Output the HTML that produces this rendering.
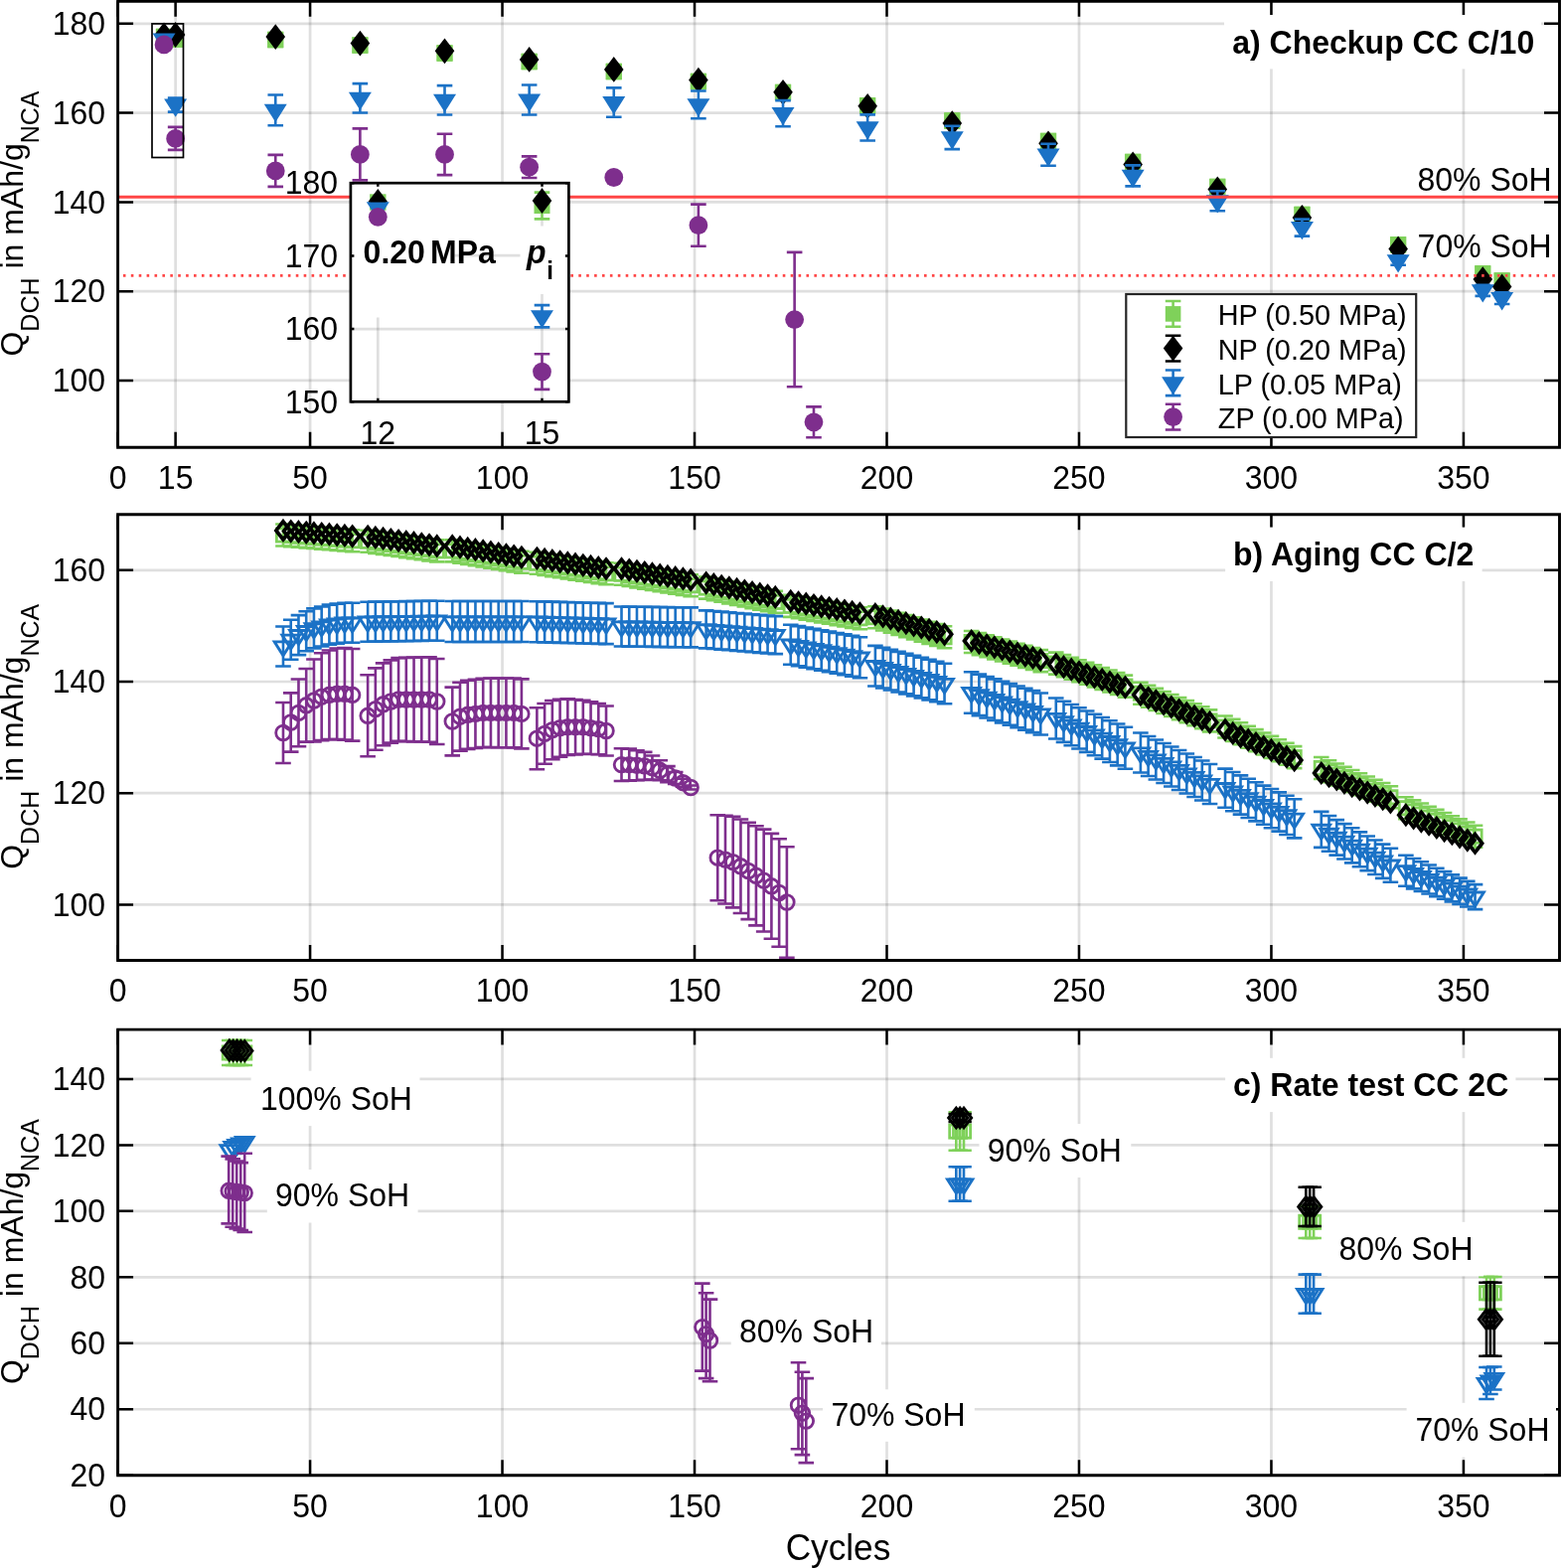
<!DOCTYPE html>
<html><head><meta charset="utf-8"><title>Discharge capacity vs cycles</title><style>html,body{margin:0;padding:0;background:#fff;overflow:hidden}svg{display:block}</style></head><body>
<svg width="1571" height="1578" viewBox="0 0 1571 1578" font-family="'Liberation Sans', Arial, Helvetica, sans-serif">
<rect width="1571" height="1578" fill="#fff"/>
<path d="M118.6,1.35V450.3M176.64,1.35V450.3M312.07,1.35V450.3M505.55,1.35V450.3M699.02,1.35V450.3M892.5,1.35V450.3M1085.97,1.35V450.3M1279.45,1.35V450.3M1472.92,1.35V450.3" stroke="#262626" stroke-opacity="0.15" stroke-width="2.7" fill="none"/><path d="M118.6,382.96H1569.5M118.6,293.17H1569.5M118.6,203.38H1569.5M118.6,113.59H1569.5M118.6,23.8H1569.5" stroke="#262626" stroke-opacity="0.15" stroke-width="2.7" fill="none"/>
<path d="M118.6,450.3V434.8M118.6,1.35V16.85M176.64,450.3V434.8M176.64,1.35V16.85M312.07,450.3V434.8M312.07,1.35V16.85M505.55,450.3V434.8M505.55,1.35V16.85M699.02,450.3V434.8M699.02,1.35V16.85M892.5,450.3V434.8M892.5,1.35V16.85M1085.97,450.3V434.8M1085.97,1.35V16.85M1279.45,450.3V434.8M1279.45,1.35V16.85M1472.92,450.3V434.8M1472.92,1.35V16.85M118.6,382.96H134.1M1569.5,382.96H1554M118.6,293.17H134.1M1569.5,293.17H1554M118.6,203.38H134.1M1569.5,203.38H1554M118.6,113.59H134.1M1569.5,113.59H1554M118.6,23.8H134.1M1569.5,23.8H1554" stroke="#000000" stroke-width="2.5" fill="none"/>
<path d="M165.03,30V44M157.23,30H172.83M157.23,44H172.83" stroke="#7fd15a" stroke-width="2.6" fill="none"/><rect x="156.83" y="28.8" width="16.4" height="16.4" fill="#7fd15a"/><path d="M176.64,32.5V46.5M168.84,32.5H184.44M168.84,46.5H184.44" stroke="#7fd15a" stroke-width="2.6" fill="none"/><rect x="168.44" y="31.3" width="16.4" height="16.4" fill="#7fd15a"/><path d="M277.25,33V47M269.45,33H285.05M269.45,47H285.05" stroke="#7fd15a" stroke-width="2.6" fill="none"/><rect x="269.05" y="31.8" width="16.4" height="16.4" fill="#7fd15a"/><path d="M362.38,38.5V52.5M354.58,38.5H370.18M354.58,52.5H370.18" stroke="#7fd15a" stroke-width="2.6" fill="none"/><rect x="354.18" y="37.3" width="16.4" height="16.4" fill="#7fd15a"/><path d="M447.51,46.5V60.5M439.71,46.5H455.31M439.71,60.5H455.31" stroke="#7fd15a" stroke-width="2.6" fill="none"/><rect x="439.31" y="45.3" width="16.4" height="16.4" fill="#7fd15a"/><path d="M532.64,55V69M524.84,55H540.44M524.84,69H540.44" stroke="#7fd15a" stroke-width="2.6" fill="none"/><rect x="524.44" y="53.8" width="16.4" height="16.4" fill="#7fd15a"/><path d="M617.77,65V79M609.97,65H625.57M609.97,79H625.57" stroke="#7fd15a" stroke-width="2.6" fill="none"/><rect x="609.57" y="63.8" width="16.4" height="16.4" fill="#7fd15a"/><path d="M702.89,75V89M695.09,75H710.69M695.09,89H710.69" stroke="#7fd15a" stroke-width="2.6" fill="none"/><rect x="694.69" y="73.8" width="16.4" height="16.4" fill="#7fd15a"/><path d="M788.02,86V100M780.22,86H795.82M780.22,100H795.82" stroke="#7fd15a" stroke-width="2.6" fill="none"/><rect x="779.82" y="84.8" width="16.4" height="16.4" fill="#7fd15a"/><path d="M873.15,99.3V113.3M865.35,99.3H880.95M865.35,113.3H880.95" stroke="#7fd15a" stroke-width="2.6" fill="none"/><rect x="864.95" y="98.1" width="16.4" height="16.4" fill="#7fd15a"/><path d="M958.28,114.5V128.5M950.48,114.5H966.08M950.48,128.5H966.08" stroke="#7fd15a" stroke-width="2.6" fill="none"/><rect x="950.08" y="113.3" width="16.4" height="16.4" fill="#7fd15a"/><path d="M1055.02,135V149M1047.22,135H1062.82M1047.22,149H1062.82" stroke="#7fd15a" stroke-width="2.6" fill="none"/><rect x="1046.82" y="133.8" width="16.4" height="16.4" fill="#7fd15a"/><path d="M1140.15,156V170M1132.35,156H1147.95M1132.35,170H1147.95" stroke="#7fd15a" stroke-width="2.6" fill="none"/><rect x="1131.95" y="154.8" width="16.4" height="16.4" fill="#7fd15a"/><path d="M1225.28,181V195M1217.48,181H1233.08M1217.48,195H1233.08" stroke="#7fd15a" stroke-width="2.6" fill="none"/><rect x="1217.08" y="179.8" width="16.4" height="16.4" fill="#7fd15a"/><path d="M1310.41,209V223M1302.61,209H1318.21M1302.61,223H1318.21" stroke="#7fd15a" stroke-width="2.6" fill="none"/><rect x="1302.21" y="207.8" width="16.4" height="16.4" fill="#7fd15a"/><path d="M1407.14,239.3V253.3M1399.34,239.3H1414.94M1399.34,253.3H1414.94" stroke="#7fd15a" stroke-width="2.6" fill="none"/><rect x="1398.94" y="238.1" width="16.4" height="16.4" fill="#7fd15a"/><path d="M1492.27,268.4V282.4M1484.47,268.4H1500.07M1484.47,282.4H1500.07" stroke="#7fd15a" stroke-width="2.6" fill="none"/><rect x="1484.07" y="267.2" width="16.4" height="16.4" fill="#7fd15a"/><path d="M1511.62,275.5V289.5M1503.82,275.5H1519.42M1503.82,289.5H1519.42" stroke="#7fd15a" stroke-width="2.6" fill="none"/><rect x="1503.42" y="274.3" width="16.4" height="16.4" fill="#7fd15a"/><path d="M165.03,22.4L174.83,35.3L165.03,48.2L155.23,35.3Z" fill="#000000"/><path d="M176.64,22.1L186.44,35L176.64,47.9L166.84,35Z" fill="#000000"/><path d="M277.25,24.2L287.05,37.1L277.25,50L267.45,37.1Z" fill="#000000"/><path d="M362.38,30.7L372.18,43.6L362.38,56.5L352.58,43.6Z" fill="#000000"/><path d="M447.51,38.4L457.31,51.3L447.51,64.2L437.71,51.3Z" fill="#000000"/><path d="M532.64,47L542.44,59.9L532.64,72.8L522.84,59.9Z" fill="#000000"/><path d="M617.77,57L627.57,69.9L617.77,82.8L607.97,69.9Z" fill="#000000"/><path d="M702.89,67.7L712.69,80.6L702.89,93.5L693.09,80.6Z" fill="#000000"/><path d="M788.02,79.9L797.82,92.8L788.02,105.7L778.22,92.8Z" fill="#000000"/><path d="M873.15,93.9L882.95,106.8L873.15,119.7L863.35,106.8Z" fill="#000000"/><path d="M958.28,111.2L968.08,124.1L958.28,137L948.48,124.1Z" fill="#000000"/><path d="M1055.02,131.4L1064.82,144.3L1055.02,157.2L1045.22,144.3Z" fill="#000000"/><path d="M1140.15,152.5L1149.95,165.4L1140.15,178.3L1130.35,165.4Z" fill="#000000"/><path d="M1225.28,177.5L1235.08,190.4L1225.28,203.3L1215.48,190.4Z" fill="#000000"/><path d="M1310.41,206L1320.21,218.9L1310.41,231.8L1300.61,218.9Z" fill="#000000"/><path d="M1407.14,237.6L1416.94,250.5L1407.14,263.4L1397.34,250.5Z" fill="#000000"/><path d="M1492.27,268.2L1502.07,281.1L1492.27,294L1482.47,281.1Z" fill="#000000"/><path d="M1511.62,275.5L1521.42,288.4L1511.62,301.3L1501.82,288.4Z" fill="#000000"/><path d="M165.03,36.5V42.5M157.23,36.5H172.83M157.23,42.5H172.83" stroke="#1b72c6" stroke-width="2.6" fill="none"/><path d="M153.53,33.4L176.53,33.4L165.03,51.7Z" fill="#1b72c6"/><path d="M176.64,98.6V112.6M168.84,98.6H184.44M168.84,112.6H184.44" stroke="#1b72c6" stroke-width="2.6" fill="none"/><path d="M165.14,99.5L188.14,99.5L176.64,117.8Z" fill="#1b72c6"/><path d="M277.25,95.5V126.3M269.45,95.5H285.05M269.45,126.3H285.05" stroke="#1b72c6" stroke-width="2.6" fill="none"/><path d="M265.75,104.8L288.75,104.8L277.25,123.1Z" fill="#1b72c6"/><path d="M362.38,84.1V113.5M354.58,84.1H370.18M354.58,113.5H370.18" stroke="#1b72c6" stroke-width="2.6" fill="none"/><path d="M350.88,92.7L373.88,92.7L362.38,111Z" fill="#1b72c6"/><path d="M447.51,86.1V115.5M439.71,86.1H455.31M439.71,115.5H455.31" stroke="#1b72c6" stroke-width="2.6" fill="none"/><path d="M436.01,94.7L459.01,94.7L447.51,113Z" fill="#1b72c6"/><path d="M532.64,85.5V115.5M524.84,85.5H540.44M524.84,115.5H540.44" stroke="#1b72c6" stroke-width="2.6" fill="none"/><path d="M521.14,94.4L544.14,94.4L532.64,112.7Z" fill="#1b72c6"/><path d="M617.77,88.4V117.7M609.97,88.4H625.57M609.97,117.7H625.57" stroke="#1b72c6" stroke-width="2.6" fill="none"/><path d="M606.27,96.95L629.27,96.95L617.77,115.25Z" fill="#1b72c6"/><path d="M702.89,91.5V119.2M695.09,91.5H710.69M695.09,119.2H710.69" stroke="#1b72c6" stroke-width="2.6" fill="none"/><path d="M691.39,99.25L714.39,99.25L702.89,117.55Z" fill="#1b72c6"/><path d="M788.02,101.1V127.2M780.22,101.1H795.82M780.22,127.2H795.82" stroke="#1b72c6" stroke-width="2.6" fill="none"/><path d="M776.52,108.05L799.52,108.05L788.02,126.35Z" fill="#1b72c6"/><path d="M873.15,115.4V141.5M865.35,115.4H880.95M865.35,141.5H880.95" stroke="#1b72c6" stroke-width="2.6" fill="none"/><path d="M861.65,122.35L884.65,122.35L873.15,140.65Z" fill="#1b72c6"/><path d="M958.28,126.8V150.1M950.48,126.8H966.08M950.48,150.1H966.08" stroke="#1b72c6" stroke-width="2.6" fill="none"/><path d="M946.78,132.35L969.78,132.35L958.28,150.65Z" fill="#1b72c6"/><path d="M1055.02,144.7V166.7M1047.22,144.7H1062.82M1047.22,166.7H1062.82" stroke="#1b72c6" stroke-width="2.6" fill="none"/><path d="M1043.52,149.6L1066.52,149.6L1055.02,167.9Z" fill="#1b72c6"/><path d="M1140.15,166.4V187.4M1132.35,166.4H1147.95M1132.35,187.4H1147.95" stroke="#1b72c6" stroke-width="2.6" fill="none"/><path d="M1128.65,170.8L1151.65,170.8L1140.15,189.1Z" fill="#1b72c6"/><path d="M1225.28,192.3V212.3M1217.48,192.3H1233.08M1217.48,212.3H1233.08" stroke="#1b72c6" stroke-width="2.6" fill="none"/><path d="M1213.78,196.2L1236.78,196.2L1225.28,214.5Z" fill="#1b72c6"/><path d="M1310.41,220.6V237.6M1302.61,220.6H1318.21M1302.61,237.6H1318.21" stroke="#1b72c6" stroke-width="2.6" fill="none"/><path d="M1298.91,223L1321.91,223L1310.41,241.3Z" fill="#1b72c6"/><path d="M1407.14,257.8V266.8M1399.34,257.8H1414.94M1399.34,266.8H1414.94" stroke="#1b72c6" stroke-width="2.6" fill="none"/><path d="M1395.64,256.2L1418.64,256.2L1407.14,274.5Z" fill="#1b72c6"/><path d="M1492.27,286.7V297.9M1484.47,286.7H1500.07M1484.47,297.9H1500.07" stroke="#1b72c6" stroke-width="2.6" fill="none"/><path d="M1480.77,286.2L1503.77,286.2L1492.27,304.5Z" fill="#1b72c6"/><path d="M1511.62,294.4V306M1503.82,294.4H1519.42M1503.82,306H1519.42" stroke="#1b72c6" stroke-width="2.6" fill="none"/><path d="M1500.12,294.1L1523.12,294.1L1511.62,312.4Z" fill="#1b72c6"/><circle cx="165.03" cy="44.9" r="9.4" fill="#7e2e8d"/><path d="M176.64,127.9V150.9M168.84,127.9H184.44M168.84,150.9H184.44" stroke="#7e2e8d" stroke-width="2.6" fill="none"/><circle cx="176.64" cy="139.4" r="9.4" fill="#7e2e8d"/><path d="M277.25,155.9V187.9M269.45,155.9H285.05M269.45,187.9H285.05" stroke="#7e2e8d" stroke-width="2.6" fill="none"/><circle cx="277.25" cy="171.9" r="9.4" fill="#7e2e8d"/><path d="M362.38,129.4V181.4M354.58,129.4H370.18M354.58,181.4H370.18" stroke="#7e2e8d" stroke-width="2.6" fill="none"/><circle cx="362.38" cy="155.4" r="9.4" fill="#7e2e8d"/><path d="M447.51,134.7V176.1M439.71,134.7H455.31M439.71,176.1H455.31" stroke="#7e2e8d" stroke-width="2.6" fill="none"/><circle cx="447.51" cy="155.4" r="9.4" fill="#7e2e8d"/><path d="M532.64,157.4V179M524.84,157.4H540.44M524.84,179H540.44" stroke="#7e2e8d" stroke-width="2.6" fill="none"/><circle cx="532.64" cy="168.2" r="9.4" fill="#7e2e8d"/><circle cx="617.77" cy="178.5" r="9.4" fill="#7e2e8d"/><path d="M702.89,205.6V247.8M695.09,205.6H710.69M695.09,247.8H710.69" stroke="#7e2e8d" stroke-width="2.6" fill="none"/><circle cx="702.89" cy="226.7" r="9.4" fill="#7e2e8d"/><path d="M799.63,253.9V389.3M791.83,253.9H807.43M791.83,389.3H807.43" stroke="#7e2e8d" stroke-width="2.6" fill="none"/><circle cx="799.63" cy="321.6" r="9.4" fill="#7e2e8d"/><path d="M818.98,409.4V440.2M811.18,409.4H826.78M811.18,440.2H826.78" stroke="#7e2e8d" stroke-width="2.6" fill="none"/><circle cx="818.98" cy="424.8" r="9.4" fill="#7e2e8d"/>
<path d="M118.6,198.3H1569.5" stroke="#ff4646" stroke-width="3"/>
<path d="M123.9,277.4H1569.5" stroke="#ff4646" stroke-width="2.6" stroke-dasharray="2.6 5.303"/>
<text transform="matrix(1,0,0,1.04,1426.5,191.9)" font-size="32" fill="#000000">80% SoH</text>
<text transform="matrix(1,0,0,1.04,1426.6,259.4)" font-size="32" fill="#000000">70% SoH</text>
<rect x="153" y="23.9" width="31.5" height="134.6" fill="none" stroke="#000" stroke-width="1.7"/>
<rect x="1232" y="15" width="319" height="54.4" fill="#fff"/>
<text transform="matrix(1,0,0,1.04,1240.3,53.6)" font-size="32" font-weight="bold" fill="#000000">a) Checkup CC C/10</text>
<path d="M118.6,1.35H1569.5V450.3H118.6Z" stroke="#000000" stroke-width="2.9" fill="none"/>
<rect x="1133.3" y="296" width="291.9" height="144" fill="#fff" stroke="#262626" stroke-width="2.2"/>
<path d="M1180.6,303V328.8M1172.8,303H1188.4M1172.8,328.8H1188.4" stroke="#7fd15a" stroke-width="2.6" fill="none"/><rect x="1172.8" y="308.1" width="15.6" height="15.6" fill="#7fd15a"/><path d="M1180.6,337.7V363.5M1172.8,337.7H1188.4M1172.8,363.5H1188.4" stroke="#000000" stroke-width="2.6" fill="none"/><path d="M1180.6,337.7L1190.4,350.6L1180.6,363.5L1170.8,350.6Z" fill="#000000"/><path d="M1180.6,372.5V398.1M1172.8,372.5H1188.4M1172.8,398.1H1188.4" stroke="#1b72c6" stroke-width="2.6" fill="none"/><path d="M1169.1,379.2L1192.1,379.2L1180.6,397.5Z" fill="#1b72c6"/><path d="M1180.6,406.7V432.5M1172.8,406.7H1188.4M1172.8,432.5H1188.4" stroke="#7e2e8d" stroke-width="2.6" fill="none"/><circle cx="1180.6" cy="419.6" r="9.4" fill="#7e2e8d"/><text transform="matrix(1,0,0,1.04,1225.8,327.4)" font-size="28.8" fill="#000000">HP (0.50 MPa)</text><text transform="matrix(1,0,0,1.04,1225.8,362.1)" font-size="28.8" fill="#000000">NP (0.20 MPa)</text><text transform="matrix(1,0,0,1.04,1225.8,396.8)" font-size="28.8" fill="#000000">LP (0.05 MPa)</text><text transform="matrix(1,0,0,1.04,1225.8,431.1)" font-size="28.8" fill="#000000">ZP (0.00 MPa)</text>
<rect x="352.9" y="184.2" width="219.5" height="220.1" fill="#fff"/><path d="M380.3,319.4V404.3M545.5,184.2V227.5M545.5,296V404.3" stroke="#262626" stroke-opacity="0.15" stroke-width="2.7" fill="none"/><path d="M457.6,257.2H523.5M352.9,331.1H572.4" stroke="#262626" stroke-opacity="0.15" stroke-width="2.7" fill="none"/><rect x="372.1" y="195.3" width="16.4" height="16.4" fill="#7fd15a"/><path d="M380.3,190L390.1,202.9L380.3,215.8L370.5,202.9Z" fill="#000000"/><path d="M368.8,203.3L391.8,203.3L380.3,221.6Z" fill="#1b72c6"/><path d="M372.5,202.3H388.1" stroke="#000" stroke-width="2.2"/><circle cx="380.3" cy="218.3" r="9.4" fill="#7e2e8d"/><path d="M545.5,193.6V220.4M537.7,193.6H553.3M537.7,220.4H553.3" stroke="#7fd15a" stroke-width="2.6" fill="none"/><rect x="537.5" y="199" width="16" height="16" fill="#7fd15a"/><path d="M545.5,189.2L555.3,202.1L545.5,215L535.7,202.1Z" fill="#000000"/><path d="M545.5,307.1V329.4M537.7,307.1H553.3M537.7,329.4H553.3" stroke="#1b72c6" stroke-width="2.6" fill="none"/><path d="M534,312.15L557,312.15L545.5,330.45Z" fill="#1b72c6"/><path d="M545.5,356.3V391.9M537.7,356.3H553.3M537.7,391.9H553.3" stroke="#7e2e8d" stroke-width="2.6" fill="none"/><circle cx="545.5" cy="374.1" r="9.4" fill="#7e2e8d"/><text transform="matrix(1,0,0,1.04,365.6,264.8)" font-size="32" font-weight="bold" fill="#000000">0.20</text><text transform="matrix(1,0,0,1.04,433,264.8)" font-size="32" font-weight="bold" fill="#000000">MPa</text><text transform="matrix(1,0,0,1.04,530,264.8)" font-size="32" font-weight="bold" fill="#000000" font-style="italic">p</text><text transform="matrix(1,0,0,1.04,550.2,281.4)" font-size="24" font-weight="bold" fill="#000000">i</text><path d="M380.3,404.3V400.8M380.3,184.2V187.7M545.51,404.3V400.8M545.51,184.2V187.7M352.9,404.31H356.4M572.4,404.31H568.9M352.9,330.94H356.4M572.4,330.94H568.9M352.9,257.57H356.4M572.4,257.57H568.9M352.9,184.2H356.4M572.4,184.2H568.9" stroke="#000000" stroke-width="2.5" fill="none"/><rect x="352.9" y="184.2" width="219.5" height="220.1" fill="none" stroke="#000000" stroke-width="2.7"/><text transform="matrix(1,0,0,1.04,340,415.51)" font-size="32" text-anchor="end" fill="#000000">150</text><text transform="matrix(1,0,0,1.04,340,342.14)" font-size="32" text-anchor="end" fill="#000000">160</text><text transform="matrix(1,0,0,1.04,340,268.77)" font-size="32" text-anchor="end" fill="#000000">170</text><text transform="matrix(1,0,0,1.04,340,195.4)" font-size="32" text-anchor="end" fill="#000000">180</text><text transform="matrix(1,0,0,1.04,380.3,447)" font-size="32" text-anchor="middle" fill="#000000">12</text><text transform="matrix(1,0,0,1.04,545.51,447)" font-size="32" text-anchor="middle" fill="#000000">15</text>
<text transform="matrix(1,0,0,1.04,118.6,492.1)" font-size="32" text-anchor="middle" fill="#000000">0</text><text transform="matrix(1,0,0,1.04,176.64,492.1)" font-size="32" text-anchor="middle" fill="#000000">15</text><text transform="matrix(1,0,0,1.04,312.07,492.1)" font-size="32" text-anchor="middle" fill="#000000">50</text><text transform="matrix(1,0,0,1.04,505.55,492.1)" font-size="32" text-anchor="middle" fill="#000000">100</text><text transform="matrix(1,0,0,1.04,699.02,492.1)" font-size="32" text-anchor="middle" fill="#000000">150</text><text transform="matrix(1,0,0,1.04,892.5,492.1)" font-size="32" text-anchor="middle" fill="#000000">200</text><text transform="matrix(1,0,0,1.04,1085.97,492.1)" font-size="32" text-anchor="middle" fill="#000000">250</text><text transform="matrix(1,0,0,1.04,1279.45,492.1)" font-size="32" text-anchor="middle" fill="#000000">300</text><text transform="matrix(1,0,0,1.04,1472.92,492.1)" font-size="32" text-anchor="middle" fill="#000000">350</text><text transform="matrix(1,0,0,1.04,106,394.16)" font-size="32" text-anchor="end" fill="#000000">100</text><text transform="matrix(1,0,0,1.04,106,304.37)" font-size="32" text-anchor="end" fill="#000000">120</text><text transform="matrix(1,0,0,1.04,106,214.58)" font-size="32" text-anchor="end" fill="#000000">140</text><text transform="matrix(1,0,0,1.04,106,124.79)" font-size="32" text-anchor="end" fill="#000000">160</text><text transform="matrix(1,0,0,1.04,106,35)" font-size="32" text-anchor="end" fill="#000000">180</text>
<text transform="translate(22.9,225.03) rotate(-90)" text-anchor="middle" font-size="32" fill="#000000">Q<tspan font-size="25" dy="16.4">DCH</tspan><tspan dy="-16.4"> in mAh/g</tspan><tspan font-size="25" dy="16.4">NCA</tspan></text>
<path d="M118.6,517.7V966.5M312.07,517.7V966.5M505.55,517.7V966.5M699.02,517.7V966.5M892.5,517.7V966.5M1085.97,517.7V966.5M1279.45,517.7V966.5M1472.92,517.7V966.5" stroke="#262626" stroke-opacity="0.15" stroke-width="2.7" fill="none"/><path d="M118.6,910.4H1569.5M118.6,798.2H1569.5M118.6,686H1569.5M118.6,573.8H1569.5" stroke="#262626" stroke-opacity="0.15" stroke-width="2.7" fill="none"/>
<path d="M118.6,966.5V951M118.6,517.7V533.2M312.07,966.5V951M312.07,517.7V533.2M505.55,966.5V951M505.55,517.7V533.2M699.02,966.5V951M699.02,517.7V533.2M892.5,966.5V951M892.5,517.7V533.2M1085.97,966.5V951M1085.97,517.7V533.2M1279.45,966.5V951M1279.45,517.7V533.2M1472.92,966.5V951M1472.92,517.7V533.2M118.6,910.4H134.1M1569.5,910.4H1554M118.6,798.2H134.1M1569.5,798.2H1554M118.6,686H134.1M1569.5,686H1554M118.6,573.8H134.1M1569.5,573.8H1554" stroke="#000000" stroke-width="2.5" fill="none"/>
<path d="M284.99,527.5V549.5M277.19,527.5H292.79M277.19,549.5H292.79" stroke="#7fd15a" stroke-width="2.6" fill="none"/><path d="M292.73,528.13V550.13M284.93,528.13H300.53M284.93,550.13H300.53" stroke="#7fd15a" stroke-width="2.6" fill="none"/><path d="M300.47,528.77V550.77M292.67,528.77H308.27M292.67,550.77H308.27" stroke="#7fd15a" stroke-width="2.6" fill="none"/><path d="M308.21,529.4V551.4M300.41,529.4H316.01M300.41,551.4H316.01" stroke="#7fd15a" stroke-width="2.6" fill="none"/><path d="M315.94,530.03V552.03M308.14,530.03H323.74M308.14,552.03H323.74" stroke="#7fd15a" stroke-width="2.6" fill="none"/><path d="M323.68,530.67V552.67M315.88,530.67H331.48M315.88,552.67H331.48" stroke="#7fd15a" stroke-width="2.6" fill="none"/><path d="M331.42,531.3V553.3M323.62,531.3H339.22M323.62,553.3H339.22" stroke="#7fd15a" stroke-width="2.6" fill="none"/><path d="M339.16,531.93V553.93M331.36,531.93H346.96M331.36,553.93H346.96" stroke="#7fd15a" stroke-width="2.6" fill="none"/><path d="M346.9,532.57V554.57M339.1,532.57H354.7M339.1,554.57H354.7" stroke="#7fd15a" stroke-width="2.6" fill="none"/><path d="M354.64,533.2V555.2M346.84,533.2H362.44M346.84,555.2H362.44" stroke="#7fd15a" stroke-width="2.6" fill="none"/><path d="M370.12,533.8V555.8M362.32,533.8H377.92M362.32,555.8H377.92" stroke="#7fd15a" stroke-width="2.6" fill="none"/><path d="M377.86,534.87V556.87M370.06,534.87H385.66M370.06,556.87H385.66" stroke="#7fd15a" stroke-width="2.6" fill="none"/><path d="M385.6,535.93V557.93M377.8,535.93H393.4M377.8,557.93H393.4" stroke="#7fd15a" stroke-width="2.6" fill="none"/><path d="M393.33,537V559M385.53,537H401.13M385.53,559H401.13" stroke="#7fd15a" stroke-width="2.6" fill="none"/><path d="M401.07,538.07V560.07M393.27,538.07H408.87M393.27,560.07H408.87" stroke="#7fd15a" stroke-width="2.6" fill="none"/><path d="M408.81,539.13V561.13M401.01,539.13H416.61M401.01,561.13H416.61" stroke="#7fd15a" stroke-width="2.6" fill="none"/><path d="M416.55,540.2V562.2M408.75,540.2H424.35M408.75,562.2H424.35" stroke="#7fd15a" stroke-width="2.6" fill="none"/><path d="M424.29,541.27V563.27M416.49,541.27H432.09M416.49,563.27H432.09" stroke="#7fd15a" stroke-width="2.6" fill="none"/><path d="M432.03,542.33V564.33M424.23,542.33H439.83M424.23,564.33H439.83" stroke="#7fd15a" stroke-width="2.6" fill="none"/><path d="M439.77,543.4V565.4M431.97,543.4H447.57M431.97,565.4H447.57" stroke="#7fd15a" stroke-width="2.6" fill="none"/><path d="M455.25,543.4V565.4M447.45,543.4H463.05M447.45,565.4H463.05" stroke="#7fd15a" stroke-width="2.6" fill="none"/><path d="M462.99,544.67V566.67M455.19,544.67H470.79M455.19,566.67H470.79" stroke="#7fd15a" stroke-width="2.6" fill="none"/><path d="M470.72,545.93V567.93M462.92,545.93H478.52M462.92,567.93H478.52" stroke="#7fd15a" stroke-width="2.6" fill="none"/><path d="M478.46,547.2V569.2M470.66,547.2H486.26M470.66,569.2H486.26" stroke="#7fd15a" stroke-width="2.6" fill="none"/><path d="M486.2,548.47V570.47M478.4,548.47H494M478.4,570.47H494" stroke="#7fd15a" stroke-width="2.6" fill="none"/><path d="M493.94,549.73V571.73M486.14,549.73H501.74M486.14,571.73H501.74" stroke="#7fd15a" stroke-width="2.6" fill="none"/><path d="M501.68,551V573M493.88,551H509.48M493.88,573H509.48" stroke="#7fd15a" stroke-width="2.6" fill="none"/><path d="M509.42,552.27V574.27M501.62,552.27H517.22M501.62,574.27H517.22" stroke="#7fd15a" stroke-width="2.6" fill="none"/><path d="M517.16,553.53V575.53M509.36,553.53H524.96M509.36,575.53H524.96" stroke="#7fd15a" stroke-width="2.6" fill="none"/><path d="M524.9,554.8V576.8M517.1,554.8H532.7M517.1,576.8H532.7" stroke="#7fd15a" stroke-width="2.6" fill="none"/><path d="M540.38,555.8V577.8M532.58,555.8H548.18M532.58,577.8H548.18" stroke="#7fd15a" stroke-width="2.6" fill="none"/><path d="M548.11,556.97V578.97M540.31,556.97H555.91M540.31,578.97H555.91" stroke="#7fd15a" stroke-width="2.6" fill="none"/><path d="M555.85,558.13V580.13M548.05,558.13H563.65M548.05,580.13H563.65" stroke="#7fd15a" stroke-width="2.6" fill="none"/><path d="M563.59,559.3V581.3M555.79,559.3H571.39M555.79,581.3H571.39" stroke="#7fd15a" stroke-width="2.6" fill="none"/><path d="M571.33,560.47V582.47M563.53,560.47H579.13M563.53,582.47H579.13" stroke="#7fd15a" stroke-width="2.6" fill="none"/><path d="M579.07,561.63V583.63M571.27,561.63H586.87M571.27,583.63H586.87" stroke="#7fd15a" stroke-width="2.6" fill="none"/><path d="M586.81,562.8V584.8M579.01,562.8H594.61M579.01,584.8H594.61" stroke="#7fd15a" stroke-width="2.6" fill="none"/><path d="M594.55,563.97V585.97M586.75,563.97H602.35M586.75,585.97H602.35" stroke="#7fd15a" stroke-width="2.6" fill="none"/><path d="M602.29,565.13V587.13M594.49,565.13H610.09M594.49,587.13H610.09" stroke="#7fd15a" stroke-width="2.6" fill="none"/><path d="M610.03,566.3V588.3M602.23,566.3H617.83M602.23,588.3H617.83" stroke="#7fd15a" stroke-width="2.6" fill="none"/><path d="M625.5,566.8V588.8M617.7,566.8H633.3M617.7,588.8H633.3" stroke="#7fd15a" stroke-width="2.6" fill="none"/><path d="M633.24,568.07V590.07M625.44,568.07H641.04M625.44,590.07H641.04" stroke="#7fd15a" stroke-width="2.6" fill="none"/><path d="M640.98,569.33V591.33M633.18,569.33H648.78M633.18,591.33H648.78" stroke="#7fd15a" stroke-width="2.6" fill="none"/><path d="M648.72,570.6V592.6M640.92,570.6H656.52M640.92,592.6H656.52" stroke="#7fd15a" stroke-width="2.6" fill="none"/><path d="M656.46,571.87V593.87M648.66,571.87H664.26M648.66,593.87H664.26" stroke="#7fd15a" stroke-width="2.6" fill="none"/><path d="M664.2,573.13V595.13M656.4,573.13H672M656.4,595.13H672" stroke="#7fd15a" stroke-width="2.6" fill="none"/><path d="M671.94,574.4V596.4M664.14,574.4H679.74M664.14,596.4H679.74" stroke="#7fd15a" stroke-width="2.6" fill="none"/><path d="M679.68,575.67V597.67M671.88,575.67H687.48M671.88,597.67H687.48" stroke="#7fd15a" stroke-width="2.6" fill="none"/><path d="M687.42,576.93V598.93M679.62,576.93H695.22M679.62,598.93H695.22" stroke="#7fd15a" stroke-width="2.6" fill="none"/><path d="M695.16,578.2V600.2M687.36,578.2H702.96M687.36,600.2H702.96" stroke="#7fd15a" stroke-width="2.6" fill="none"/><path d="M710.63,580.6V602.6M702.83,580.6H718.43M702.83,602.6H718.43" stroke="#7fd15a" stroke-width="2.6" fill="none"/><path d="M718.37,582.19V604.19M710.57,582.19H726.17M710.57,604.19H726.17" stroke="#7fd15a" stroke-width="2.6" fill="none"/><path d="M726.11,583.78V605.78M718.31,583.78H733.91M718.31,605.78H733.91" stroke="#7fd15a" stroke-width="2.6" fill="none"/><path d="M733.85,585.37V607.37M726.05,585.37H741.65M726.05,607.37H741.65" stroke="#7fd15a" stroke-width="2.6" fill="none"/><path d="M741.59,586.96V608.96M733.79,586.96H749.39M733.79,608.96H749.39" stroke="#7fd15a" stroke-width="2.6" fill="none"/><path d="M749.33,588.54V610.54M741.53,588.54H757.13M741.53,610.54H757.13" stroke="#7fd15a" stroke-width="2.6" fill="none"/><path d="M757.07,590.13V612.13M749.27,590.13H764.87M749.27,612.13H764.87" stroke="#7fd15a" stroke-width="2.6" fill="none"/><path d="M764.81,591.72V613.72M757.01,591.72H772.61M757.01,613.72H772.61" stroke="#7fd15a" stroke-width="2.6" fill="none"/><path d="M772.55,593.31V615.31M764.75,593.31H780.35M764.75,615.31H780.35" stroke="#7fd15a" stroke-width="2.6" fill="none"/><path d="M780.28,594.9V616.9M772.48,594.9H788.08M772.48,616.9H788.08" stroke="#7fd15a" stroke-width="2.6" fill="none"/><path d="M795.76,598.9V620.9M787.96,598.9H803.56M787.96,620.9H803.56" stroke="#7fd15a" stroke-width="2.6" fill="none"/><path d="M803.5,600.28V622.28M795.7,600.28H811.3M795.7,622.28H811.3" stroke="#7fd15a" stroke-width="2.6" fill="none"/><path d="M811.24,601.66V623.66M803.44,601.66H819.04M803.44,623.66H819.04" stroke="#7fd15a" stroke-width="2.6" fill="none"/><path d="M818.98,603.03V625.03M811.18,603.03H826.78M811.18,625.03H826.78" stroke="#7fd15a" stroke-width="2.6" fill="none"/><path d="M826.72,604.41V626.41M818.92,604.41H834.52M818.92,626.41H834.52" stroke="#7fd15a" stroke-width="2.6" fill="none"/><path d="M834.46,605.79V627.79M826.66,605.79H842.26M826.66,627.79H842.26" stroke="#7fd15a" stroke-width="2.6" fill="none"/><path d="M842.2,607.17V629.17M834.4,607.17H850M834.4,629.17H850" stroke="#7fd15a" stroke-width="2.6" fill="none"/><path d="M849.94,608.54V630.54M842.14,608.54H857.74M842.14,630.54H857.74" stroke="#7fd15a" stroke-width="2.6" fill="none"/><path d="M857.67,609.92V631.92M849.87,609.92H865.47M849.87,631.92H865.47" stroke="#7fd15a" stroke-width="2.6" fill="none"/><path d="M865.41,611.3V633.3M857.61,611.3H873.21M857.61,633.3H873.21" stroke="#7fd15a" stroke-width="2.6" fill="none"/><path d="M880.89,610.2V632.2M873.09,610.2H888.69M873.09,632.2H888.69" stroke="#7fd15a" stroke-width="2.6" fill="none"/><path d="M888.63,612.43V634.43M880.83,612.43H896.43M880.83,634.43H896.43" stroke="#7fd15a" stroke-width="2.6" fill="none"/><path d="M896.37,614.67V636.67M888.57,614.67H904.17M888.57,636.67H904.17" stroke="#7fd15a" stroke-width="2.6" fill="none"/><path d="M904.11,616.9V638.9M896.31,616.9H911.91M896.31,638.9H911.91" stroke="#7fd15a" stroke-width="2.6" fill="none"/><path d="M911.85,619.13V641.13M904.05,619.13H919.65M904.05,641.13H919.65" stroke="#7fd15a" stroke-width="2.6" fill="none"/><path d="M919.59,621.37V643.37M911.79,621.37H927.39M911.79,643.37H927.39" stroke="#7fd15a" stroke-width="2.6" fill="none"/><path d="M927.33,623.6V645.6M919.53,623.6H935.13M919.53,645.6H935.13" stroke="#7fd15a" stroke-width="2.6" fill="none"/><path d="M935.06,625.83V647.83M927.26,625.83H942.86M927.26,647.83H942.86" stroke="#7fd15a" stroke-width="2.6" fill="none"/><path d="M942.8,628.07V650.07M935,628.07H950.6M935,650.07H950.6" stroke="#7fd15a" stroke-width="2.6" fill="none"/><path d="M950.54,630.3V652.3M942.74,630.3H958.34M942.74,652.3H958.34" stroke="#7fd15a" stroke-width="2.6" fill="none"/><path d="M977.63,635V657M969.83,635H985.43M969.83,657H985.43" stroke="#7fd15a" stroke-width="2.6" fill="none"/><path d="M985.37,637.12V659.12M977.57,637.12H993.17M977.57,659.12H993.17" stroke="#7fd15a" stroke-width="2.6" fill="none"/><path d="M993.11,639.24V661.24M985.31,639.24H1000.91M985.31,661.24H1000.91" stroke="#7fd15a" stroke-width="2.6" fill="none"/><path d="M1000.85,641.37V663.37M993.05,641.37H1008.65M993.05,663.37H1008.65" stroke="#7fd15a" stroke-width="2.6" fill="none"/><path d="M1008.59,643.49V665.49M1000.79,643.49H1016.38M1000.79,665.49H1016.38" stroke="#7fd15a" stroke-width="2.6" fill="none"/><path d="M1016.32,645.61V667.61M1008.52,645.61H1024.12M1008.52,667.61H1024.12" stroke="#7fd15a" stroke-width="2.6" fill="none"/><path d="M1024.06,647.73V669.73M1016.26,647.73H1031.86M1016.26,669.73H1031.86" stroke="#7fd15a" stroke-width="2.6" fill="none"/><path d="M1031.8,649.86V671.86M1024,649.86H1039.6M1024,671.86H1039.6" stroke="#7fd15a" stroke-width="2.6" fill="none"/><path d="M1039.54,651.98V673.98M1031.74,651.98H1047.34M1031.74,673.98H1047.34" stroke="#7fd15a" stroke-width="2.6" fill="none"/><path d="M1047.28,654.1V676.1M1039.48,654.1H1055.08M1039.48,676.1H1055.08" stroke="#7fd15a" stroke-width="2.6" fill="none"/><path d="M1062.76,656.6V678.6M1054.96,656.6H1070.56M1054.96,678.6H1070.56" stroke="#7fd15a" stroke-width="2.6" fill="none"/><path d="M1070.5,659.16V681.16M1062.7,659.16H1078.3M1062.7,681.16H1078.3" stroke="#7fd15a" stroke-width="2.6" fill="none"/><path d="M1078.24,661.71V683.71M1070.44,661.71H1086.04M1070.44,683.71H1086.04" stroke="#7fd15a" stroke-width="2.6" fill="none"/><path d="M1085.97,664.27V686.27M1078.17,664.27H1093.77M1078.17,686.27H1093.77" stroke="#7fd15a" stroke-width="2.6" fill="none"/><path d="M1093.71,666.82V688.82M1085.91,666.82H1101.51M1085.91,688.82H1101.51" stroke="#7fd15a" stroke-width="2.6" fill="none"/><path d="M1101.45,669.38V691.38M1093.65,669.38H1109.25M1093.65,691.38H1109.25" stroke="#7fd15a" stroke-width="2.6" fill="none"/><path d="M1109.19,671.93V693.93M1101.39,671.93H1116.99M1101.39,693.93H1116.99" stroke="#7fd15a" stroke-width="2.6" fill="none"/><path d="M1116.93,674.49V696.49M1109.13,674.49H1124.73M1109.13,696.49H1124.73" stroke="#7fd15a" stroke-width="2.6" fill="none"/><path d="M1124.67,677.04V699.04M1116.87,677.04H1132.47M1116.87,699.04H1132.47" stroke="#7fd15a" stroke-width="2.6" fill="none"/><path d="M1132.41,679.6V701.6M1124.61,679.6H1140.21M1124.61,701.6H1140.21" stroke="#7fd15a" stroke-width="2.6" fill="none"/><path d="M1147.89,686.7V708.7M1140.09,686.7H1155.69M1140.09,708.7H1155.69" stroke="#7fd15a" stroke-width="2.6" fill="none"/><path d="M1155.63,689.78V711.78M1147.83,689.78H1163.43M1147.83,711.78H1163.43" stroke="#7fd15a" stroke-width="2.6" fill="none"/><path d="M1163.36,692.86V714.86M1155.56,692.86H1171.16M1155.56,714.86H1171.16" stroke="#7fd15a" stroke-width="2.6" fill="none"/><path d="M1171.1,695.93V717.93M1163.3,695.93H1178.9M1163.3,717.93H1178.9" stroke="#7fd15a" stroke-width="2.6" fill="none"/><path d="M1178.84,699.01V721.01M1171.04,699.01H1186.64M1171.04,721.01H1186.64" stroke="#7fd15a" stroke-width="2.6" fill="none"/><path d="M1186.58,702.09V724.09M1178.78,702.09H1194.38M1178.78,724.09H1194.38" stroke="#7fd15a" stroke-width="2.6" fill="none"/><path d="M1194.32,705.17V727.17M1186.52,705.17H1202.12M1186.52,727.17H1202.12" stroke="#7fd15a" stroke-width="2.6" fill="none"/><path d="M1202.06,708.24V730.24M1194.26,708.24H1209.86M1194.26,730.24H1209.86" stroke="#7fd15a" stroke-width="2.6" fill="none"/><path d="M1209.8,711.32V733.32M1202,711.32H1217.6M1202,733.32H1217.6" stroke="#7fd15a" stroke-width="2.6" fill="none"/><path d="M1217.54,714.4V736.4M1209.74,714.4H1225.34M1209.74,736.4H1225.34" stroke="#7fd15a" stroke-width="2.6" fill="none"/><path d="M1233.02,720.5V742.5M1225.22,720.5H1240.82M1225.22,742.5H1240.82" stroke="#7fd15a" stroke-width="2.6" fill="none"/><path d="M1240.75,723.9V745.9M1232.95,723.9H1248.55M1232.95,745.9H1248.55" stroke="#7fd15a" stroke-width="2.6" fill="none"/><path d="M1248.49,727.3V749.3M1240.69,727.3H1256.29M1240.69,749.3H1256.29" stroke="#7fd15a" stroke-width="2.6" fill="none"/><path d="M1256.23,730.7V752.7M1248.43,730.7H1264.03M1248.43,752.7H1264.03" stroke="#7fd15a" stroke-width="2.6" fill="none"/><path d="M1263.97,734.1V756.1M1256.17,734.1H1271.77M1256.17,756.1H1271.77" stroke="#7fd15a" stroke-width="2.6" fill="none"/><path d="M1271.71,737.5V759.5M1263.91,737.5H1279.51M1263.91,759.5H1279.51" stroke="#7fd15a" stroke-width="2.6" fill="none"/><path d="M1279.45,740.9V762.9M1271.65,740.9H1287.25M1271.65,762.9H1287.25" stroke="#7fd15a" stroke-width="2.6" fill="none"/><path d="M1287.19,744.3V766.3M1279.39,744.3H1294.99M1279.39,766.3H1294.99" stroke="#7fd15a" stroke-width="2.6" fill="none"/><path d="M1294.93,747.7V769.7M1287.13,747.7H1302.73M1287.13,769.7H1302.73" stroke="#7fd15a" stroke-width="2.6" fill="none"/><path d="M1302.67,751.1V773.1M1294.87,751.1H1310.47M1294.87,773.1H1310.47" stroke="#7fd15a" stroke-width="2.6" fill="none"/><path d="M1329.75,762V784M1321.95,762H1337.55M1321.95,784H1337.55" stroke="#7fd15a" stroke-width="2.6" fill="none"/><path d="M1337.49,765.26V787.26M1329.69,765.26H1345.29M1329.69,787.26H1345.29" stroke="#7fd15a" stroke-width="2.6" fill="none"/><path d="M1345.23,768.51V790.51M1337.43,768.51H1353.03M1337.43,790.51H1353.03" stroke="#7fd15a" stroke-width="2.6" fill="none"/><path d="M1352.97,771.77V793.77M1345.17,771.77H1360.77M1345.17,793.77H1360.77" stroke="#7fd15a" stroke-width="2.6" fill="none"/><path d="M1360.71,775.02V797.02M1352.91,775.02H1368.51M1352.91,797.02H1368.51" stroke="#7fd15a" stroke-width="2.6" fill="none"/><path d="M1368.45,778.28V800.28M1360.65,778.28H1376.25M1360.65,800.28H1376.25" stroke="#7fd15a" stroke-width="2.6" fill="none"/><path d="M1376.19,781.53V803.53M1368.39,781.53H1383.99M1368.39,803.53H1383.99" stroke="#7fd15a" stroke-width="2.6" fill="none"/><path d="M1383.93,784.79V806.79M1376.13,784.79H1391.73M1376.13,806.79H1391.73" stroke="#7fd15a" stroke-width="2.6" fill="none"/><path d="M1391.67,788.04V810.04M1383.87,788.04H1399.47M1383.87,810.04H1399.47" stroke="#7fd15a" stroke-width="2.6" fill="none"/><path d="M1399.4,791.3V813.3M1391.6,791.3H1407.2M1391.6,813.3H1407.2" stroke="#7fd15a" stroke-width="2.6" fill="none"/><path d="M1414.88,802.2V824.2M1407.08,802.2H1422.68M1407.08,824.2H1422.68" stroke="#7fd15a" stroke-width="2.6" fill="none"/><path d="M1422.62,805.37V827.37M1414.82,805.37H1430.42M1414.82,827.37H1430.42" stroke="#7fd15a" stroke-width="2.6" fill="none"/><path d="M1430.36,808.53V830.53M1422.56,808.53H1438.16M1422.56,830.53H1438.16" stroke="#7fd15a" stroke-width="2.6" fill="none"/><path d="M1438.1,811.7V833.7M1430.3,811.7H1445.9M1430.3,833.7H1445.9" stroke="#7fd15a" stroke-width="2.6" fill="none"/><path d="M1445.84,814.87V836.87M1438.04,814.87H1453.64M1438.04,836.87H1453.64" stroke="#7fd15a" stroke-width="2.6" fill="none"/><path d="M1453.58,818.03V840.03M1445.78,818.03H1461.38M1445.78,840.03H1461.38" stroke="#7fd15a" stroke-width="2.6" fill="none"/><path d="M1461.32,821.2V843.2M1453.52,821.2H1469.12M1453.52,843.2H1469.12" stroke="#7fd15a" stroke-width="2.6" fill="none"/><path d="M1469.06,824.37V846.37M1461.26,824.37H1476.86M1461.26,846.37H1476.86" stroke="#7fd15a" stroke-width="2.6" fill="none"/><path d="M1476.79,827.53V849.53M1468.99,827.53H1484.59M1468.99,849.53H1484.59" stroke="#7fd15a" stroke-width="2.6" fill="none"/><path d="M1484.53,830.7V852.7M1476.73,830.7H1492.33M1476.73,852.7H1492.33" stroke="#7fd15a" stroke-width="2.6" fill="none"/>
<rect x="278.39" y="531.9" width="13.2" height="13.2" fill="none" stroke="#7fd15a" stroke-width="2.8"/><rect x="286.13" y="532.53" width="13.2" height="13.2" fill="none" stroke="#7fd15a" stroke-width="2.8"/><rect x="293.87" y="533.17" width="13.2" height="13.2" fill="none" stroke="#7fd15a" stroke-width="2.8"/><rect x="301.61" y="533.8" width="13.2" height="13.2" fill="none" stroke="#7fd15a" stroke-width="2.8"/><rect x="309.34" y="534.43" width="13.2" height="13.2" fill="none" stroke="#7fd15a" stroke-width="2.8"/><rect x="317.08" y="535.07" width="13.2" height="13.2" fill="none" stroke="#7fd15a" stroke-width="2.8"/><rect x="324.82" y="535.7" width="13.2" height="13.2" fill="none" stroke="#7fd15a" stroke-width="2.8"/><rect x="332.56" y="536.33" width="13.2" height="13.2" fill="none" stroke="#7fd15a" stroke-width="2.8"/><rect x="340.3" y="536.97" width="13.2" height="13.2" fill="none" stroke="#7fd15a" stroke-width="2.8"/><rect x="348.04" y="537.6" width="13.2" height="13.2" fill="none" stroke="#7fd15a" stroke-width="2.8"/><rect x="363.52" y="538.2" width="13.2" height="13.2" fill="none" stroke="#7fd15a" stroke-width="2.8"/><rect x="371.26" y="539.27" width="13.2" height="13.2" fill="none" stroke="#7fd15a" stroke-width="2.8"/><rect x="379" y="540.33" width="13.2" height="13.2" fill="none" stroke="#7fd15a" stroke-width="2.8"/><rect x="386.73" y="541.4" width="13.2" height="13.2" fill="none" stroke="#7fd15a" stroke-width="2.8"/><rect x="394.47" y="542.47" width="13.2" height="13.2" fill="none" stroke="#7fd15a" stroke-width="2.8"/><rect x="402.21" y="543.53" width="13.2" height="13.2" fill="none" stroke="#7fd15a" stroke-width="2.8"/><rect x="409.95" y="544.6" width="13.2" height="13.2" fill="none" stroke="#7fd15a" stroke-width="2.8"/><rect x="417.69" y="545.67" width="13.2" height="13.2" fill="none" stroke="#7fd15a" stroke-width="2.8"/><rect x="425.43" y="546.73" width="13.2" height="13.2" fill="none" stroke="#7fd15a" stroke-width="2.8"/><rect x="433.17" y="547.8" width="13.2" height="13.2" fill="none" stroke="#7fd15a" stroke-width="2.8"/><rect x="448.65" y="547.8" width="13.2" height="13.2" fill="none" stroke="#7fd15a" stroke-width="2.8"/><rect x="456.39" y="549.07" width="13.2" height="13.2" fill="none" stroke="#7fd15a" stroke-width="2.8"/><rect x="464.12" y="550.33" width="13.2" height="13.2" fill="none" stroke="#7fd15a" stroke-width="2.8"/><rect x="471.86" y="551.6" width="13.2" height="13.2" fill="none" stroke="#7fd15a" stroke-width="2.8"/><rect x="479.6" y="552.87" width="13.2" height="13.2" fill="none" stroke="#7fd15a" stroke-width="2.8"/><rect x="487.34" y="554.13" width="13.2" height="13.2" fill="none" stroke="#7fd15a" stroke-width="2.8"/><rect x="495.08" y="555.4" width="13.2" height="13.2" fill="none" stroke="#7fd15a" stroke-width="2.8"/><rect x="502.82" y="556.67" width="13.2" height="13.2" fill="none" stroke="#7fd15a" stroke-width="2.8"/><rect x="510.56" y="557.93" width="13.2" height="13.2" fill="none" stroke="#7fd15a" stroke-width="2.8"/><rect x="518.3" y="559.2" width="13.2" height="13.2" fill="none" stroke="#7fd15a" stroke-width="2.8"/><rect x="533.78" y="560.2" width="13.2" height="13.2" fill="none" stroke="#7fd15a" stroke-width="2.8"/><rect x="541.51" y="561.37" width="13.2" height="13.2" fill="none" stroke="#7fd15a" stroke-width="2.8"/><rect x="549.25" y="562.53" width="13.2" height="13.2" fill="none" stroke="#7fd15a" stroke-width="2.8"/><rect x="556.99" y="563.7" width="13.2" height="13.2" fill="none" stroke="#7fd15a" stroke-width="2.8"/><rect x="564.73" y="564.87" width="13.2" height="13.2" fill="none" stroke="#7fd15a" stroke-width="2.8"/><rect x="572.47" y="566.03" width="13.2" height="13.2" fill="none" stroke="#7fd15a" stroke-width="2.8"/><rect x="580.21" y="567.2" width="13.2" height="13.2" fill="none" stroke="#7fd15a" stroke-width="2.8"/><rect x="587.95" y="568.37" width="13.2" height="13.2" fill="none" stroke="#7fd15a" stroke-width="2.8"/><rect x="595.69" y="569.53" width="13.2" height="13.2" fill="none" stroke="#7fd15a" stroke-width="2.8"/><rect x="603.43" y="570.7" width="13.2" height="13.2" fill="none" stroke="#7fd15a" stroke-width="2.8"/><rect x="618.9" y="571.2" width="13.2" height="13.2" fill="none" stroke="#7fd15a" stroke-width="2.8"/><rect x="626.64" y="572.47" width="13.2" height="13.2" fill="none" stroke="#7fd15a" stroke-width="2.8"/><rect x="634.38" y="573.73" width="13.2" height="13.2" fill="none" stroke="#7fd15a" stroke-width="2.8"/><rect x="642.12" y="575" width="13.2" height="13.2" fill="none" stroke="#7fd15a" stroke-width="2.8"/><rect x="649.86" y="576.27" width="13.2" height="13.2" fill="none" stroke="#7fd15a" stroke-width="2.8"/><rect x="657.6" y="577.53" width="13.2" height="13.2" fill="none" stroke="#7fd15a" stroke-width="2.8"/><rect x="665.34" y="578.8" width="13.2" height="13.2" fill="none" stroke="#7fd15a" stroke-width="2.8"/><rect x="673.08" y="580.07" width="13.2" height="13.2" fill="none" stroke="#7fd15a" stroke-width="2.8"/><rect x="680.82" y="581.33" width="13.2" height="13.2" fill="none" stroke="#7fd15a" stroke-width="2.8"/><rect x="688.56" y="582.6" width="13.2" height="13.2" fill="none" stroke="#7fd15a" stroke-width="2.8"/><rect x="704.03" y="585" width="13.2" height="13.2" fill="none" stroke="#7fd15a" stroke-width="2.8"/><rect x="711.77" y="586.59" width="13.2" height="13.2" fill="none" stroke="#7fd15a" stroke-width="2.8"/><rect x="719.51" y="588.18" width="13.2" height="13.2" fill="none" stroke="#7fd15a" stroke-width="2.8"/><rect x="727.25" y="589.77" width="13.2" height="13.2" fill="none" stroke="#7fd15a" stroke-width="2.8"/><rect x="734.99" y="591.36" width="13.2" height="13.2" fill="none" stroke="#7fd15a" stroke-width="2.8"/><rect x="742.73" y="592.94" width="13.2" height="13.2" fill="none" stroke="#7fd15a" stroke-width="2.8"/><rect x="750.47" y="594.53" width="13.2" height="13.2" fill="none" stroke="#7fd15a" stroke-width="2.8"/><rect x="758.21" y="596.12" width="13.2" height="13.2" fill="none" stroke="#7fd15a" stroke-width="2.8"/><rect x="765.95" y="597.71" width="13.2" height="13.2" fill="none" stroke="#7fd15a" stroke-width="2.8"/><rect x="773.68" y="599.3" width="13.2" height="13.2" fill="none" stroke="#7fd15a" stroke-width="2.8"/><rect x="789.16" y="603.3" width="13.2" height="13.2" fill="none" stroke="#7fd15a" stroke-width="2.8"/><rect x="796.9" y="604.68" width="13.2" height="13.2" fill="none" stroke="#7fd15a" stroke-width="2.8"/><rect x="804.64" y="606.06" width="13.2" height="13.2" fill="none" stroke="#7fd15a" stroke-width="2.8"/><rect x="812.38" y="607.43" width="13.2" height="13.2" fill="none" stroke="#7fd15a" stroke-width="2.8"/><rect x="820.12" y="608.81" width="13.2" height="13.2" fill="none" stroke="#7fd15a" stroke-width="2.8"/><rect x="827.86" y="610.19" width="13.2" height="13.2" fill="none" stroke="#7fd15a" stroke-width="2.8"/><rect x="835.6" y="611.57" width="13.2" height="13.2" fill="none" stroke="#7fd15a" stroke-width="2.8"/><rect x="843.34" y="612.94" width="13.2" height="13.2" fill="none" stroke="#7fd15a" stroke-width="2.8"/><rect x="851.07" y="614.32" width="13.2" height="13.2" fill="none" stroke="#7fd15a" stroke-width="2.8"/><rect x="858.81" y="615.7" width="13.2" height="13.2" fill="none" stroke="#7fd15a" stroke-width="2.8"/><rect x="874.29" y="614.6" width="13.2" height="13.2" fill="none" stroke="#7fd15a" stroke-width="2.8"/><rect x="882.03" y="616.83" width="13.2" height="13.2" fill="none" stroke="#7fd15a" stroke-width="2.8"/><rect x="889.77" y="619.07" width="13.2" height="13.2" fill="none" stroke="#7fd15a" stroke-width="2.8"/><rect x="897.51" y="621.3" width="13.2" height="13.2" fill="none" stroke="#7fd15a" stroke-width="2.8"/><rect x="905.25" y="623.53" width="13.2" height="13.2" fill="none" stroke="#7fd15a" stroke-width="2.8"/><rect x="912.99" y="625.77" width="13.2" height="13.2" fill="none" stroke="#7fd15a" stroke-width="2.8"/><rect x="920.73" y="628" width="13.2" height="13.2" fill="none" stroke="#7fd15a" stroke-width="2.8"/><rect x="928.46" y="630.23" width="13.2" height="13.2" fill="none" stroke="#7fd15a" stroke-width="2.8"/><rect x="936.2" y="632.47" width="13.2" height="13.2" fill="none" stroke="#7fd15a" stroke-width="2.8"/><rect x="943.94" y="634.7" width="13.2" height="13.2" fill="none" stroke="#7fd15a" stroke-width="2.8"/><rect x="971.03" y="639.4" width="13.2" height="13.2" fill="none" stroke="#7fd15a" stroke-width="2.8"/><rect x="978.77" y="641.52" width="13.2" height="13.2" fill="none" stroke="#7fd15a" stroke-width="2.8"/><rect x="986.51" y="643.64" width="13.2" height="13.2" fill="none" stroke="#7fd15a" stroke-width="2.8"/><rect x="994.25" y="645.77" width="13.2" height="13.2" fill="none" stroke="#7fd15a" stroke-width="2.8"/><rect x="1001.99" y="647.89" width="13.2" height="13.2" fill="none" stroke="#7fd15a" stroke-width="2.8"/><rect x="1009.72" y="650.01" width="13.2" height="13.2" fill="none" stroke="#7fd15a" stroke-width="2.8"/><rect x="1017.46" y="652.13" width="13.2" height="13.2" fill="none" stroke="#7fd15a" stroke-width="2.8"/><rect x="1025.2" y="654.26" width="13.2" height="13.2" fill="none" stroke="#7fd15a" stroke-width="2.8"/><rect x="1032.94" y="656.38" width="13.2" height="13.2" fill="none" stroke="#7fd15a" stroke-width="2.8"/><rect x="1040.68" y="658.5" width="13.2" height="13.2" fill="none" stroke="#7fd15a" stroke-width="2.8"/><rect x="1056.16" y="661" width="13.2" height="13.2" fill="none" stroke="#7fd15a" stroke-width="2.8"/><rect x="1063.9" y="663.56" width="13.2" height="13.2" fill="none" stroke="#7fd15a" stroke-width="2.8"/><rect x="1071.64" y="666.11" width="13.2" height="13.2" fill="none" stroke="#7fd15a" stroke-width="2.8"/><rect x="1079.38" y="668.67" width="13.2" height="13.2" fill="none" stroke="#7fd15a" stroke-width="2.8"/><rect x="1087.11" y="671.22" width="13.2" height="13.2" fill="none" stroke="#7fd15a" stroke-width="2.8"/><rect x="1094.85" y="673.78" width="13.2" height="13.2" fill="none" stroke="#7fd15a" stroke-width="2.8"/><rect x="1102.59" y="676.33" width="13.2" height="13.2" fill="none" stroke="#7fd15a" stroke-width="2.8"/><rect x="1110.33" y="678.89" width="13.2" height="13.2" fill="none" stroke="#7fd15a" stroke-width="2.8"/><rect x="1118.07" y="681.44" width="13.2" height="13.2" fill="none" stroke="#7fd15a" stroke-width="2.8"/><rect x="1125.81" y="684" width="13.2" height="13.2" fill="none" stroke="#7fd15a" stroke-width="2.8"/><rect x="1141.29" y="691.1" width="13.2" height="13.2" fill="none" stroke="#7fd15a" stroke-width="2.8"/><rect x="1149.03" y="694.18" width="13.2" height="13.2" fill="none" stroke="#7fd15a" stroke-width="2.8"/><rect x="1156.76" y="697.26" width="13.2" height="13.2" fill="none" stroke="#7fd15a" stroke-width="2.8"/><rect x="1164.5" y="700.33" width="13.2" height="13.2" fill="none" stroke="#7fd15a" stroke-width="2.8"/><rect x="1172.24" y="703.41" width="13.2" height="13.2" fill="none" stroke="#7fd15a" stroke-width="2.8"/><rect x="1179.98" y="706.49" width="13.2" height="13.2" fill="none" stroke="#7fd15a" stroke-width="2.8"/><rect x="1187.72" y="709.57" width="13.2" height="13.2" fill="none" stroke="#7fd15a" stroke-width="2.8"/><rect x="1195.46" y="712.64" width="13.2" height="13.2" fill="none" stroke="#7fd15a" stroke-width="2.8"/><rect x="1203.2" y="715.72" width="13.2" height="13.2" fill="none" stroke="#7fd15a" stroke-width="2.8"/><rect x="1210.94" y="718.8" width="13.2" height="13.2" fill="none" stroke="#7fd15a" stroke-width="2.8"/><rect x="1226.42" y="724.9" width="13.2" height="13.2" fill="none" stroke="#7fd15a" stroke-width="2.8"/><rect x="1234.15" y="728.3" width="13.2" height="13.2" fill="none" stroke="#7fd15a" stroke-width="2.8"/><rect x="1241.89" y="731.7" width="13.2" height="13.2" fill="none" stroke="#7fd15a" stroke-width="2.8"/><rect x="1249.63" y="735.1" width="13.2" height="13.2" fill="none" stroke="#7fd15a" stroke-width="2.8"/><rect x="1257.37" y="738.5" width="13.2" height="13.2" fill="none" stroke="#7fd15a" stroke-width="2.8"/><rect x="1265.11" y="741.9" width="13.2" height="13.2" fill="none" stroke="#7fd15a" stroke-width="2.8"/><rect x="1272.85" y="745.3" width="13.2" height="13.2" fill="none" stroke="#7fd15a" stroke-width="2.8"/><rect x="1280.59" y="748.7" width="13.2" height="13.2" fill="none" stroke="#7fd15a" stroke-width="2.8"/><rect x="1288.33" y="752.1" width="13.2" height="13.2" fill="none" stroke="#7fd15a" stroke-width="2.8"/><rect x="1296.07" y="755.5" width="13.2" height="13.2" fill="none" stroke="#7fd15a" stroke-width="2.8"/><rect x="1323.15" y="766.4" width="13.2" height="13.2" fill="none" stroke="#7fd15a" stroke-width="2.8"/><rect x="1330.89" y="769.66" width="13.2" height="13.2" fill="none" stroke="#7fd15a" stroke-width="2.8"/><rect x="1338.63" y="772.91" width="13.2" height="13.2" fill="none" stroke="#7fd15a" stroke-width="2.8"/><rect x="1346.37" y="776.17" width="13.2" height="13.2" fill="none" stroke="#7fd15a" stroke-width="2.8"/><rect x="1354.11" y="779.42" width="13.2" height="13.2" fill="none" stroke="#7fd15a" stroke-width="2.8"/><rect x="1361.85" y="782.68" width="13.2" height="13.2" fill="none" stroke="#7fd15a" stroke-width="2.8"/><rect x="1369.59" y="785.93" width="13.2" height="13.2" fill="none" stroke="#7fd15a" stroke-width="2.8"/><rect x="1377.33" y="789.19" width="13.2" height="13.2" fill="none" stroke="#7fd15a" stroke-width="2.8"/><rect x="1385.07" y="792.44" width="13.2" height="13.2" fill="none" stroke="#7fd15a" stroke-width="2.8"/><rect x="1392.8" y="795.7" width="13.2" height="13.2" fill="none" stroke="#7fd15a" stroke-width="2.8"/><rect x="1408.28" y="806.6" width="13.2" height="13.2" fill="none" stroke="#7fd15a" stroke-width="2.8"/><rect x="1416.02" y="809.77" width="13.2" height="13.2" fill="none" stroke="#7fd15a" stroke-width="2.8"/><rect x="1423.76" y="812.93" width="13.2" height="13.2" fill="none" stroke="#7fd15a" stroke-width="2.8"/><rect x="1431.5" y="816.1" width="13.2" height="13.2" fill="none" stroke="#7fd15a" stroke-width="2.8"/><rect x="1439.24" y="819.27" width="13.2" height="13.2" fill="none" stroke="#7fd15a" stroke-width="2.8"/><rect x="1446.98" y="822.43" width="13.2" height="13.2" fill="none" stroke="#7fd15a" stroke-width="2.8"/><rect x="1454.72" y="825.6" width="13.2" height="13.2" fill="none" stroke="#7fd15a" stroke-width="2.8"/><rect x="1462.46" y="828.77" width="13.2" height="13.2" fill="none" stroke="#7fd15a" stroke-width="2.8"/><rect x="1470.19" y="831.93" width="13.2" height="13.2" fill="none" stroke="#7fd15a" stroke-width="2.8"/><rect x="1477.93" y="835.1" width="13.2" height="13.2" fill="none" stroke="#7fd15a" stroke-width="2.8"/>

<path d="M284.99,524.8L292.09,533.9L284.99,543L277.89,533.9Z" fill="none" stroke="#000000" stroke-width="3.7"/><path d="M292.73,525.43L299.83,534.53L292.73,543.63L285.63,534.53Z" fill="none" stroke="#000000" stroke-width="3.7"/><path d="M300.47,526.07L307.57,535.17L300.47,544.27L293.37,535.17Z" fill="none" stroke="#000000" stroke-width="3.7"/><path d="M308.21,526.7L315.31,535.8L308.21,544.9L301.11,535.8Z" fill="none" stroke="#000000" stroke-width="3.7"/><path d="M315.94,527.33L323.04,536.43L315.94,545.53L308.84,536.43Z" fill="none" stroke="#000000" stroke-width="3.7"/><path d="M323.68,527.97L330.78,537.07L323.68,546.17L316.58,537.07Z" fill="none" stroke="#000000" stroke-width="3.7"/><path d="M331.42,528.6L338.52,537.7L331.42,546.8L324.32,537.7Z" fill="none" stroke="#000000" stroke-width="3.7"/><path d="M339.16,529.23L346.26,538.33L339.16,547.43L332.06,538.33Z" fill="none" stroke="#000000" stroke-width="3.7"/><path d="M346.9,529.87L354,538.97L346.9,548.07L339.8,538.97Z" fill="none" stroke="#000000" stroke-width="3.7"/><path d="M354.64,530.5L361.74,539.6L354.64,548.7L347.54,539.6Z" fill="none" stroke="#000000" stroke-width="3.7"/><path d="M370.12,530.7L377.22,539.8L370.12,548.9L363.02,539.8Z" fill="none" stroke="#000000" stroke-width="3.7"/><path d="M377.86,531.77L384.96,540.87L377.86,549.97L370.76,540.87Z" fill="none" stroke="#000000" stroke-width="3.7"/><path d="M385.6,532.83L392.7,541.93L385.6,551.03L378.5,541.93Z" fill="none" stroke="#000000" stroke-width="3.7"/><path d="M393.33,533.9L400.43,543L393.33,552.1L386.23,543Z" fill="none" stroke="#000000" stroke-width="3.7"/><path d="M401.07,534.97L408.17,544.07L401.07,553.17L393.97,544.07Z" fill="none" stroke="#000000" stroke-width="3.7"/><path d="M408.81,536.03L415.91,545.13L408.81,554.23L401.71,545.13Z" fill="none" stroke="#000000" stroke-width="3.7"/><path d="M416.55,537.1L423.65,546.2L416.55,555.3L409.45,546.2Z" fill="none" stroke="#000000" stroke-width="3.7"/><path d="M424.29,538.17L431.39,547.27L424.29,556.37L417.19,547.27Z" fill="none" stroke="#000000" stroke-width="3.7"/><path d="M432.03,539.23L439.13,548.33L432.03,557.43L424.93,548.33Z" fill="none" stroke="#000000" stroke-width="3.7"/><path d="M439.77,540.3L446.87,549.4L439.77,558.5L432.67,549.4Z" fill="none" stroke="#000000" stroke-width="3.7"/><path d="M455.25,540.3L462.35,549.4L455.25,558.5L448.15,549.4Z" fill="none" stroke="#000000" stroke-width="3.7"/><path d="M462.99,541.57L470.09,550.67L462.99,559.77L455.89,550.67Z" fill="none" stroke="#000000" stroke-width="3.7"/><path d="M470.72,542.83L477.82,551.93L470.72,561.03L463.62,551.93Z" fill="none" stroke="#000000" stroke-width="3.7"/><path d="M478.46,544.1L485.56,553.2L478.46,562.3L471.36,553.2Z" fill="none" stroke="#000000" stroke-width="3.7"/><path d="M486.2,545.37L493.3,554.47L486.2,563.57L479.1,554.47Z" fill="none" stroke="#000000" stroke-width="3.7"/><path d="M493.94,546.63L501.04,555.73L493.94,564.83L486.84,555.73Z" fill="none" stroke="#000000" stroke-width="3.7"/><path d="M501.68,547.9L508.78,557L501.68,566.1L494.58,557Z" fill="none" stroke="#000000" stroke-width="3.7"/><path d="M509.42,549.17L516.52,558.27L509.42,567.37L502.32,558.27Z" fill="none" stroke="#000000" stroke-width="3.7"/><path d="M517.16,550.43L524.26,559.53L517.16,568.63L510.06,559.53Z" fill="none" stroke="#000000" stroke-width="3.7"/><path d="M524.9,551.7L532,560.8L524.9,569.9L517.8,560.8Z" fill="none" stroke="#000000" stroke-width="3.7"/><path d="M540.38,552.7L547.48,561.8L540.38,570.9L533.28,561.8Z" fill="none" stroke="#000000" stroke-width="3.7"/><path d="M548.11,553.87L555.21,562.97L548.11,572.07L541.01,562.97Z" fill="none" stroke="#000000" stroke-width="3.7"/><path d="M555.85,555.03L562.95,564.13L555.85,573.23L548.75,564.13Z" fill="none" stroke="#000000" stroke-width="3.7"/><path d="M563.59,556.2L570.69,565.3L563.59,574.4L556.49,565.3Z" fill="none" stroke="#000000" stroke-width="3.7"/><path d="M571.33,557.37L578.43,566.47L571.33,575.57L564.23,566.47Z" fill="none" stroke="#000000" stroke-width="3.7"/><path d="M579.07,558.53L586.17,567.63L579.07,576.73L571.97,567.63Z" fill="none" stroke="#000000" stroke-width="3.7"/><path d="M586.81,559.7L593.91,568.8L586.81,577.9L579.71,568.8Z" fill="none" stroke="#000000" stroke-width="3.7"/><path d="M594.55,560.87L601.65,569.97L594.55,579.07L587.45,569.97Z" fill="none" stroke="#000000" stroke-width="3.7"/><path d="M602.29,562.03L609.39,571.13L602.29,580.23L595.19,571.13Z" fill="none" stroke="#000000" stroke-width="3.7"/><path d="M610.03,563.2L617.13,572.3L610.03,581.4L602.93,572.3Z" fill="none" stroke="#000000" stroke-width="3.7"/><path d="M625.5,563.2L632.6,572.3L625.5,581.4L618.4,572.3Z" fill="none" stroke="#000000" stroke-width="3.7"/><path d="M633.24,564.47L640.34,573.57L633.24,582.67L626.14,573.57Z" fill="none" stroke="#000000" stroke-width="3.7"/><path d="M640.98,565.73L648.08,574.83L640.98,583.93L633.88,574.83Z" fill="none" stroke="#000000" stroke-width="3.7"/><path d="M648.72,567L655.82,576.1L648.72,585.2L641.62,576.1Z" fill="none" stroke="#000000" stroke-width="3.7"/><path d="M656.46,568.27L663.56,577.37L656.46,586.47L649.36,577.37Z" fill="none" stroke="#000000" stroke-width="3.7"/><path d="M664.2,569.53L671.3,578.63L664.2,587.73L657.1,578.63Z" fill="none" stroke="#000000" stroke-width="3.7"/><path d="M671.94,570.8L679.04,579.9L671.94,589L664.84,579.9Z" fill="none" stroke="#000000" stroke-width="3.7"/><path d="M679.68,572.07L686.78,581.17L679.68,590.27L672.58,581.17Z" fill="none" stroke="#000000" stroke-width="3.7"/><path d="M687.42,573.33L694.52,582.43L687.42,591.53L680.32,582.43Z" fill="none" stroke="#000000" stroke-width="3.7"/><path d="M695.16,574.6L702.26,583.7L695.16,592.8L688.06,583.7Z" fill="none" stroke="#000000" stroke-width="3.7"/><path d="M710.63,577.5L717.73,586.6L710.63,595.7L703.53,586.6Z" fill="none" stroke="#000000" stroke-width="3.7"/><path d="M718.37,579.09L725.47,588.19L718.37,597.29L711.27,588.19Z" fill="none" stroke="#000000" stroke-width="3.7"/><path d="M726.11,580.68L733.21,589.78L726.11,598.88L719.01,589.78Z" fill="none" stroke="#000000" stroke-width="3.7"/><path d="M733.85,582.27L740.95,591.37L733.85,600.47L726.75,591.37Z" fill="none" stroke="#000000" stroke-width="3.7"/><path d="M741.59,583.86L748.69,592.96L741.59,602.06L734.49,592.96Z" fill="none" stroke="#000000" stroke-width="3.7"/><path d="M749.33,585.44L756.43,594.54L749.33,603.64L742.23,594.54Z" fill="none" stroke="#000000" stroke-width="3.7"/><path d="M757.07,587.03L764.17,596.13L757.07,605.23L749.97,596.13Z" fill="none" stroke="#000000" stroke-width="3.7"/><path d="M764.81,588.62L771.91,597.72L764.81,606.82L757.71,597.72Z" fill="none" stroke="#000000" stroke-width="3.7"/><path d="M772.55,590.21L779.65,599.31L772.55,608.41L765.45,599.31Z" fill="none" stroke="#000000" stroke-width="3.7"/><path d="M780.28,591.8L787.38,600.9L780.28,610L773.18,600.9Z" fill="none" stroke="#000000" stroke-width="3.7"/><path d="M795.76,595.8L802.86,604.9L795.76,614L788.66,604.9Z" fill="none" stroke="#000000" stroke-width="3.7"/><path d="M803.5,597.18L810.6,606.28L803.5,615.38L796.4,606.28Z" fill="none" stroke="#000000" stroke-width="3.7"/><path d="M811.24,598.56L818.34,607.66L811.24,616.76L804.14,607.66Z" fill="none" stroke="#000000" stroke-width="3.7"/><path d="M818.98,599.93L826.08,609.03L818.98,618.13L811.88,609.03Z" fill="none" stroke="#000000" stroke-width="3.7"/><path d="M826.72,601.31L833.82,610.41L826.72,619.51L819.62,610.41Z" fill="none" stroke="#000000" stroke-width="3.7"/><path d="M834.46,602.69L841.56,611.79L834.46,620.89L827.36,611.79Z" fill="none" stroke="#000000" stroke-width="3.7"/><path d="M842.2,604.07L849.3,613.17L842.2,622.27L835.1,613.17Z" fill="none" stroke="#000000" stroke-width="3.7"/><path d="M849.94,605.44L857.04,614.54L849.94,623.64L842.84,614.54Z" fill="none" stroke="#000000" stroke-width="3.7"/><path d="M857.67,606.82L864.77,615.92L857.67,625.02L850.57,615.92Z" fill="none" stroke="#000000" stroke-width="3.7"/><path d="M865.41,608.2L872.51,617.3L865.41,626.4L858.31,617.3Z" fill="none" stroke="#000000" stroke-width="3.7"/><path d="M880.89,609.1L887.99,618.2L880.89,627.3L873.79,618.2Z" fill="none" stroke="#000000" stroke-width="3.7"/><path d="M888.63,611.33L895.73,620.43L888.63,629.53L881.53,620.43Z" fill="none" stroke="#000000" stroke-width="3.7"/><path d="M896.37,613.57L903.47,622.67L896.37,631.77L889.27,622.67Z" fill="none" stroke="#000000" stroke-width="3.7"/><path d="M904.11,615.8L911.21,624.9L904.11,634L897.01,624.9Z" fill="none" stroke="#000000" stroke-width="3.7"/><path d="M911.85,618.03L918.95,627.13L911.85,636.23L904.75,627.13Z" fill="none" stroke="#000000" stroke-width="3.7"/><path d="M919.59,620.27L926.69,629.37L919.59,638.47L912.49,629.37Z" fill="none" stroke="#000000" stroke-width="3.7"/><path d="M927.33,622.5L934.43,631.6L927.33,640.7L920.23,631.6Z" fill="none" stroke="#000000" stroke-width="3.7"/><path d="M935.06,624.73L942.16,633.83L935.06,642.93L927.96,633.83Z" fill="none" stroke="#000000" stroke-width="3.7"/><path d="M942.8,626.97L949.9,636.07L942.8,645.17L935.7,636.07Z" fill="none" stroke="#000000" stroke-width="3.7"/><path d="M950.54,629.2L957.64,638.3L950.54,647.4L943.44,638.3Z" fill="none" stroke="#000000" stroke-width="3.7"/><path d="M977.63,635.9L984.73,645L977.63,654.1L970.53,645Z" fill="none" stroke="#000000" stroke-width="3.7"/><path d="M985.37,638.02L992.47,647.12L985.37,656.22L978.27,647.12Z" fill="none" stroke="#000000" stroke-width="3.7"/><path d="M993.11,640.14L1000.21,649.24L993.11,658.34L986.01,649.24Z" fill="none" stroke="#000000" stroke-width="3.7"/><path d="M1000.85,642.27L1007.95,651.37L1000.85,660.47L993.75,651.37Z" fill="none" stroke="#000000" stroke-width="3.7"/><path d="M1008.59,644.39L1015.69,653.49L1008.59,662.59L1001.49,653.49Z" fill="none" stroke="#000000" stroke-width="3.7"/><path d="M1016.32,646.51L1023.42,655.61L1016.32,664.71L1009.22,655.61Z" fill="none" stroke="#000000" stroke-width="3.7"/><path d="M1024.06,648.63L1031.16,657.73L1024.06,666.83L1016.96,657.73Z" fill="none" stroke="#000000" stroke-width="3.7"/><path d="M1031.8,650.76L1038.9,659.86L1031.8,668.96L1024.7,659.86Z" fill="none" stroke="#000000" stroke-width="3.7"/><path d="M1039.54,652.88L1046.64,661.98L1039.54,671.08L1032.44,661.98Z" fill="none" stroke="#000000" stroke-width="3.7"/><path d="M1047.28,655L1054.38,664.1L1047.28,673.2L1040.18,664.1Z" fill="none" stroke="#000000" stroke-width="3.7"/><path d="M1062.76,659.5L1069.86,668.6L1062.76,677.7L1055.66,668.6Z" fill="none" stroke="#000000" stroke-width="3.7"/><path d="M1070.5,662.06L1077.6,671.16L1070.5,680.26L1063.4,671.16Z" fill="none" stroke="#000000" stroke-width="3.7"/><path d="M1078.24,664.61L1085.34,673.71L1078.24,682.81L1071.14,673.71Z" fill="none" stroke="#000000" stroke-width="3.7"/><path d="M1085.97,667.17L1093.07,676.27L1085.97,685.37L1078.88,676.27Z" fill="none" stroke="#000000" stroke-width="3.7"/><path d="M1093.71,669.72L1100.81,678.82L1093.71,687.92L1086.61,678.82Z" fill="none" stroke="#000000" stroke-width="3.7"/><path d="M1101.45,672.28L1108.55,681.38L1101.45,690.48L1094.35,681.38Z" fill="none" stroke="#000000" stroke-width="3.7"/><path d="M1109.19,674.83L1116.29,683.93L1109.19,693.03L1102.09,683.93Z" fill="none" stroke="#000000" stroke-width="3.7"/><path d="M1116.93,677.39L1124.03,686.49L1116.93,695.59L1109.83,686.49Z" fill="none" stroke="#000000" stroke-width="3.7"/><path d="M1124.67,679.94L1131.77,689.04L1124.67,698.14L1117.57,689.04Z" fill="none" stroke="#000000" stroke-width="3.7"/><path d="M1132.41,682.5L1139.51,691.6L1132.41,700.7L1125.31,691.6Z" fill="none" stroke="#000000" stroke-width="3.7"/><path d="M1147.89,690.1L1154.99,699.2L1147.89,708.3L1140.79,699.2Z" fill="none" stroke="#000000" stroke-width="3.7"/><path d="M1155.63,693.18L1162.73,702.28L1155.63,711.38L1148.53,702.28Z" fill="none" stroke="#000000" stroke-width="3.7"/><path d="M1163.36,696.26L1170.46,705.36L1163.36,714.46L1156.26,705.36Z" fill="none" stroke="#000000" stroke-width="3.7"/><path d="M1171.1,699.33L1178.2,708.43L1171.1,717.53L1164,708.43Z" fill="none" stroke="#000000" stroke-width="3.7"/><path d="M1178.84,702.41L1185.94,711.51L1178.84,720.61L1171.74,711.51Z" fill="none" stroke="#000000" stroke-width="3.7"/><path d="M1186.58,705.49L1193.68,714.59L1186.58,723.69L1179.48,714.59Z" fill="none" stroke="#000000" stroke-width="3.7"/><path d="M1194.32,708.57L1201.42,717.67L1194.32,726.77L1187.22,717.67Z" fill="none" stroke="#000000" stroke-width="3.7"/><path d="M1202.06,711.64L1209.16,720.74L1202.06,729.84L1194.96,720.74Z" fill="none" stroke="#000000" stroke-width="3.7"/><path d="M1209.8,714.72L1216.9,723.82L1209.8,732.92L1202.7,723.82Z" fill="none" stroke="#000000" stroke-width="3.7"/><path d="M1217.54,717.8L1224.64,726.9L1217.54,736L1210.44,726.9Z" fill="none" stroke="#000000" stroke-width="3.7"/><path d="M1233.02,725.4L1240.12,734.5L1233.02,743.6L1225.92,734.5Z" fill="none" stroke="#000000" stroke-width="3.7"/><path d="M1240.75,728.8L1247.85,737.9L1240.75,747L1233.65,737.9Z" fill="none" stroke="#000000" stroke-width="3.7"/><path d="M1248.49,732.2L1255.59,741.3L1248.49,750.4L1241.39,741.3Z" fill="none" stroke="#000000" stroke-width="3.7"/><path d="M1256.23,735.6L1263.33,744.7L1256.23,753.8L1249.13,744.7Z" fill="none" stroke="#000000" stroke-width="3.7"/><path d="M1263.97,739L1271.07,748.1L1263.97,757.2L1256.87,748.1Z" fill="none" stroke="#000000" stroke-width="3.7"/><path d="M1271.71,742.4L1278.81,751.5L1271.71,760.6L1264.61,751.5Z" fill="none" stroke="#000000" stroke-width="3.7"/><path d="M1279.45,745.8L1286.55,754.9L1279.45,764L1272.35,754.9Z" fill="none" stroke="#000000" stroke-width="3.7"/><path d="M1287.19,749.2L1294.29,758.3L1287.19,767.4L1280.09,758.3Z" fill="none" stroke="#000000" stroke-width="3.7"/><path d="M1294.93,752.6L1302.03,761.7L1294.93,770.8L1287.83,761.7Z" fill="none" stroke="#000000" stroke-width="3.7"/><path d="M1302.67,756L1309.77,765.1L1302.67,774.2L1295.57,765.1Z" fill="none" stroke="#000000" stroke-width="3.7"/><path d="M1329.75,768.9L1336.85,778L1329.75,787.1L1322.65,778Z" fill="none" stroke="#000000" stroke-width="3.7"/><path d="M1337.49,772.16L1344.59,781.26L1337.49,790.36L1330.39,781.26Z" fill="none" stroke="#000000" stroke-width="3.7"/><path d="M1345.23,775.41L1352.33,784.51L1345.23,793.61L1338.13,784.51Z" fill="none" stroke="#000000" stroke-width="3.7"/><path d="M1352.97,778.67L1360.07,787.77L1352.97,796.87L1345.87,787.77Z" fill="none" stroke="#000000" stroke-width="3.7"/><path d="M1360.71,781.92L1367.81,791.02L1360.71,800.12L1353.61,791.02Z" fill="none" stroke="#000000" stroke-width="3.7"/><path d="M1368.45,785.18L1375.55,794.28L1368.45,803.38L1361.35,794.28Z" fill="none" stroke="#000000" stroke-width="3.7"/><path d="M1376.19,788.43L1383.29,797.53L1376.19,806.63L1369.09,797.53Z" fill="none" stroke="#000000" stroke-width="3.7"/><path d="M1383.93,791.69L1391.03,800.79L1383.93,809.89L1376.83,800.79Z" fill="none" stroke="#000000" stroke-width="3.7"/><path d="M1391.67,794.94L1398.77,804.04L1391.67,813.14L1384.57,804.04Z" fill="none" stroke="#000000" stroke-width="3.7"/><path d="M1399.4,798.2L1406.5,807.3L1399.4,816.4L1392.3,807.3Z" fill="none" stroke="#000000" stroke-width="3.7"/><path d="M1414.88,811.1L1421.98,820.2L1414.88,829.3L1407.78,820.2Z" fill="none" stroke="#000000" stroke-width="3.7"/><path d="M1422.62,814.27L1429.72,823.37L1422.62,832.47L1415.52,823.37Z" fill="none" stroke="#000000" stroke-width="3.7"/><path d="M1430.36,817.43L1437.46,826.53L1430.36,835.63L1423.26,826.53Z" fill="none" stroke="#000000" stroke-width="3.7"/><path d="M1438.1,820.6L1445.2,829.7L1438.1,838.8L1431,829.7Z" fill="none" stroke="#000000" stroke-width="3.7"/><path d="M1445.84,823.77L1452.94,832.87L1445.84,841.97L1438.74,832.87Z" fill="none" stroke="#000000" stroke-width="3.7"/><path d="M1453.58,826.93L1460.68,836.03L1453.58,845.13L1446.48,836.03Z" fill="none" stroke="#000000" stroke-width="3.7"/><path d="M1461.32,830.1L1468.42,839.2L1461.32,848.3L1454.22,839.2Z" fill="none" stroke="#000000" stroke-width="3.7"/><path d="M1469.06,833.27L1476.16,842.37L1469.06,851.47L1461.96,842.37Z" fill="none" stroke="#000000" stroke-width="3.7"/><path d="M1476.79,836.43L1483.89,845.53L1476.79,854.63L1469.69,845.53Z" fill="none" stroke="#000000" stroke-width="3.7"/><path d="M1484.53,839.6L1491.63,848.7L1484.53,857.8L1477.43,848.7Z" fill="none" stroke="#000000" stroke-width="3.7"/>
<path d="M284.99,630.5V670.5M277.19,630.5H292.79M277.19,670.5H292.79" stroke="#1b72c6" stroke-width="2.6" fill="none"/><path d="M292.73,623.8V663.8M284.93,623.8H300.53M284.93,663.8H300.53" stroke="#1b72c6" stroke-width="2.6" fill="none"/><path d="M300.47,619.1V659.1M292.67,619.1H308.27M292.67,659.1H308.27" stroke="#1b72c6" stroke-width="2.6" fill="none"/><path d="M308.21,615.2V655.2M300.41,615.2H316.01M300.41,655.2H316.01" stroke="#1b72c6" stroke-width="2.6" fill="none"/><path d="M315.94,612.4V652.4M308.14,612.4H323.74M308.14,652.4H323.74" stroke="#1b72c6" stroke-width="2.6" fill="none"/><path d="M323.68,610.5V650.5M315.88,610.5H331.48M315.88,650.5H331.48" stroke="#1b72c6" stroke-width="2.6" fill="none"/><path d="M331.42,608.6V648.6M323.62,608.6H339.22M323.62,648.6H339.22" stroke="#1b72c6" stroke-width="2.6" fill="none"/><path d="M339.16,607.6V647.6M331.36,607.6H346.96M331.36,647.6H346.96" stroke="#1b72c6" stroke-width="2.6" fill="none"/><path d="M346.9,606.7V646.7M339.1,606.7H354.7M339.1,646.7H354.7" stroke="#1b72c6" stroke-width="2.6" fill="none"/><path d="M354.64,606.7V646.7M346.84,606.7H362.44M346.84,646.7H362.44" stroke="#1b72c6" stroke-width="2.6" fill="none"/><path d="M370.12,605.7V645.7M362.32,605.7H377.92M362.32,645.7H377.92" stroke="#1b72c6" stroke-width="2.6" fill="none"/><path d="M377.86,605.59V645.59M370.06,605.59H385.66M370.06,645.59H385.66" stroke="#1b72c6" stroke-width="2.6" fill="none"/><path d="M385.6,605.48V645.48M377.8,605.48H393.4M377.8,645.48H393.4" stroke="#1b72c6" stroke-width="2.6" fill="none"/><path d="M393.33,605.37V645.37M385.53,605.37H401.13M385.53,645.37H401.13" stroke="#1b72c6" stroke-width="2.6" fill="none"/><path d="M401.07,605.26V645.26M393.27,605.26H408.87M393.27,645.26H408.87" stroke="#1b72c6" stroke-width="2.6" fill="none"/><path d="M408.81,605.14V645.14M401.01,605.14H416.61M401.01,645.14H416.61" stroke="#1b72c6" stroke-width="2.6" fill="none"/><path d="M416.55,605.03V645.03M408.75,605.03H424.35M408.75,645.03H424.35" stroke="#1b72c6" stroke-width="2.6" fill="none"/><path d="M424.29,604.92V644.92M416.49,604.92H432.09M416.49,644.92H432.09" stroke="#1b72c6" stroke-width="2.6" fill="none"/><path d="M432.03,604.81V644.81M424.23,604.81H439.83M424.23,644.81H439.83" stroke="#1b72c6" stroke-width="2.6" fill="none"/><path d="M439.77,604.7V644.7M431.97,604.7H447.57M431.97,644.7H447.57" stroke="#1b72c6" stroke-width="2.6" fill="none"/><path d="M455.25,605V646M447.45,605H463.05M447.45,646H463.05" stroke="#1b72c6" stroke-width="2.6" fill="none"/><path d="M462.99,605V646M455.19,605H470.79M455.19,646H470.79" stroke="#1b72c6" stroke-width="2.6" fill="none"/><path d="M470.72,605V646M462.92,605H478.52M462.92,646H478.52" stroke="#1b72c6" stroke-width="2.6" fill="none"/><path d="M478.46,605V646M470.66,605H486.26M470.66,646H486.26" stroke="#1b72c6" stroke-width="2.6" fill="none"/><path d="M486.2,605V646M478.4,605H494M478.4,646H494" stroke="#1b72c6" stroke-width="2.6" fill="none"/><path d="M493.94,605V646M486.14,605H501.74M486.14,646H501.74" stroke="#1b72c6" stroke-width="2.6" fill="none"/><path d="M501.68,605V646M493.88,605H509.48M493.88,646H509.48" stroke="#1b72c6" stroke-width="2.6" fill="none"/><path d="M509.42,605V646M501.62,605H517.22M501.62,646H517.22" stroke="#1b72c6" stroke-width="2.6" fill="none"/><path d="M517.16,605V646M509.36,605H524.96M509.36,646H524.96" stroke="#1b72c6" stroke-width="2.6" fill="none"/><path d="M524.9,605V646M517.1,605H532.7M517.1,646H532.7" stroke="#1b72c6" stroke-width="2.6" fill="none"/><path d="M540.38,605.2V646.2M532.58,605.2H548.18M532.58,646.2H548.18" stroke="#1b72c6" stroke-width="2.6" fill="none"/><path d="M548.11,605.41V646.41M540.31,605.41H555.91M540.31,646.41H555.91" stroke="#1b72c6" stroke-width="2.6" fill="none"/><path d="M555.85,605.62V646.62M548.05,605.62H563.65M548.05,646.62H563.65" stroke="#1b72c6" stroke-width="2.6" fill="none"/><path d="M563.59,605.83V646.83M555.79,605.83H571.39M555.79,646.83H571.39" stroke="#1b72c6" stroke-width="2.6" fill="none"/><path d="M571.33,606.04V647.04M563.53,606.04H579.13M563.53,647.04H579.13" stroke="#1b72c6" stroke-width="2.6" fill="none"/><path d="M579.07,606.26V647.26M571.27,606.26H586.87M571.27,647.26H586.87" stroke="#1b72c6" stroke-width="2.6" fill="none"/><path d="M586.81,606.47V647.47M579.01,606.47H594.61M579.01,647.47H594.61" stroke="#1b72c6" stroke-width="2.6" fill="none"/><path d="M594.55,606.68V647.68M586.75,606.68H602.35M586.75,647.68H602.35" stroke="#1b72c6" stroke-width="2.6" fill="none"/><path d="M602.29,606.89V647.89M594.49,606.89H610.09M594.49,647.89H610.09" stroke="#1b72c6" stroke-width="2.6" fill="none"/><path d="M610.03,607.1V648.1M602.23,607.1H617.83M602.23,648.1H617.83" stroke="#1b72c6" stroke-width="2.6" fill="none"/><path d="M625.5,610.5V650.5M617.7,610.5H633.3M617.7,650.5H633.3" stroke="#1b72c6" stroke-width="2.6" fill="none"/><path d="M633.24,610.6V650.6M625.44,610.6H641.04M625.44,650.6H641.04" stroke="#1b72c6" stroke-width="2.6" fill="none"/><path d="M640.98,610.7V650.7M633.18,610.7H648.78M633.18,650.7H648.78" stroke="#1b72c6" stroke-width="2.6" fill="none"/><path d="M648.72,610.8V650.8M640.92,610.8H656.52M640.92,650.8H656.52" stroke="#1b72c6" stroke-width="2.6" fill="none"/><path d="M656.46,610.9V650.9M648.66,610.9H664.26M648.66,650.9H664.26" stroke="#1b72c6" stroke-width="2.6" fill="none"/><path d="M664.2,611V651M656.4,611H672M656.4,651H672" stroke="#1b72c6" stroke-width="2.6" fill="none"/><path d="M671.94,611.1V651.1M664.14,611.1H679.74M664.14,651.1H679.74" stroke="#1b72c6" stroke-width="2.6" fill="none"/><path d="M679.68,611.2V651.2M671.88,611.2H687.48M671.88,651.2H687.48" stroke="#1b72c6" stroke-width="2.6" fill="none"/><path d="M687.42,611.3V651.3M679.62,611.3H695.22M679.62,651.3H695.22" stroke="#1b72c6" stroke-width="2.6" fill="none"/><path d="M695.16,611.4V651.4M687.36,611.4H702.96M687.36,651.4H702.96" stroke="#1b72c6" stroke-width="2.6" fill="none"/><path d="M710.63,614.4V652.4M702.83,614.4H718.43M702.83,652.4H718.43" stroke="#1b72c6" stroke-width="2.6" fill="none"/><path d="M718.37,615.03V653.03M710.57,615.03H726.17M710.57,653.03H726.17" stroke="#1b72c6" stroke-width="2.6" fill="none"/><path d="M726.11,615.67V653.67M718.31,615.67H733.91M718.31,653.67H733.91" stroke="#1b72c6" stroke-width="2.6" fill="none"/><path d="M733.85,616.3V654.3M726.05,616.3H741.65M726.05,654.3H741.65" stroke="#1b72c6" stroke-width="2.6" fill="none"/><path d="M741.59,616.93V654.93M733.79,616.93H749.39M733.79,654.93H749.39" stroke="#1b72c6" stroke-width="2.6" fill="none"/><path d="M749.33,617.57V655.57M741.53,617.57H757.13M741.53,655.57H757.13" stroke="#1b72c6" stroke-width="2.6" fill="none"/><path d="M757.07,618.2V656.2M749.27,618.2H764.87M749.27,656.2H764.87" stroke="#1b72c6" stroke-width="2.6" fill="none"/><path d="M764.81,618.83V656.83M757.01,618.83H772.61M757.01,656.83H772.61" stroke="#1b72c6" stroke-width="2.6" fill="none"/><path d="M772.55,619.47V657.47M764.75,619.47H780.35M764.75,657.47H780.35" stroke="#1b72c6" stroke-width="2.6" fill="none"/><path d="M780.28,620.1V658.1M772.48,620.1H788.08M772.48,658.1H788.08" stroke="#1b72c6" stroke-width="2.6" fill="none"/><path d="M795.76,628.7V668.7M787.96,628.7H803.56M787.96,668.7H803.56" stroke="#1b72c6" stroke-width="2.6" fill="none"/><path d="M803.5,630.09V670.2M795.7,630.09H811.3M795.7,670.2H811.3" stroke="#1b72c6" stroke-width="2.6" fill="none"/><path d="M811.24,631.48V671.7M803.44,631.48H819.04M803.44,671.7H819.04" stroke="#1b72c6" stroke-width="2.6" fill="none"/><path d="M818.98,632.87V673.2M811.18,632.87H826.78M811.18,673.2H826.78" stroke="#1b72c6" stroke-width="2.6" fill="none"/><path d="M826.72,634.26V674.7M818.92,634.26H834.52M818.92,674.7H834.52" stroke="#1b72c6" stroke-width="2.6" fill="none"/><path d="M834.46,635.64V676.2M826.66,635.64H842.26M826.66,676.2H842.26" stroke="#1b72c6" stroke-width="2.6" fill="none"/><path d="M842.2,637.03V677.7M834.4,637.03H850M834.4,677.7H850" stroke="#1b72c6" stroke-width="2.6" fill="none"/><path d="M849.94,638.42V679.2M842.14,638.42H857.74M842.14,679.2H857.74" stroke="#1b72c6" stroke-width="2.6" fill="none"/><path d="M857.67,639.81V680.7M849.87,639.81H865.47M849.87,680.7H865.47" stroke="#1b72c6" stroke-width="2.6" fill="none"/><path d="M865.41,641.2V682.2M857.61,641.2H873.21M857.61,682.2H873.21" stroke="#1b72c6" stroke-width="2.6" fill="none"/><path d="M880.89,649.9V690.5M873.09,649.9H888.69M873.09,690.5H888.69" stroke="#1b72c6" stroke-width="2.6" fill="none"/><path d="M888.63,651.88V692.48M880.83,651.88H896.43M880.83,692.48H896.43" stroke="#1b72c6" stroke-width="2.6" fill="none"/><path d="M896.37,653.86V694.46M888.57,653.86H904.17M888.57,694.46H904.17" stroke="#1b72c6" stroke-width="2.6" fill="none"/><path d="M904.11,655.83V696.43M896.31,655.83H911.91M896.31,696.43H911.91" stroke="#1b72c6" stroke-width="2.6" fill="none"/><path d="M911.85,657.81V698.41M904.05,657.81H919.65M904.05,698.41H919.65" stroke="#1b72c6" stroke-width="2.6" fill="none"/><path d="M919.59,659.79V700.39M911.79,659.79H927.39M911.79,700.39H927.39" stroke="#1b72c6" stroke-width="2.6" fill="none"/><path d="M927.33,661.77V702.37M919.53,661.77H935.13M919.53,702.37H935.13" stroke="#1b72c6" stroke-width="2.6" fill="none"/><path d="M935.06,663.74V704.34M927.26,663.74H942.86M927.26,704.34H942.86" stroke="#1b72c6" stroke-width="2.6" fill="none"/><path d="M942.8,665.72V706.32M935,665.72H950.6M935,706.32H950.6" stroke="#1b72c6" stroke-width="2.6" fill="none"/><path d="M950.54,667.7V708.3M942.74,667.7H958.34M942.74,708.3H958.34" stroke="#1b72c6" stroke-width="2.6" fill="none"/><path d="M977.63,676.3V717.7M969.83,676.3H985.43M969.83,717.7H985.43" stroke="#1b72c6" stroke-width="2.6" fill="none"/><path d="M985.37,678.66V720.12M977.57,678.66H993.17M977.57,720.12H993.17" stroke="#1b72c6" stroke-width="2.6" fill="none"/><path d="M993.11,681.01V722.54M985.31,681.01H1000.91M985.31,722.54H1000.91" stroke="#1b72c6" stroke-width="2.6" fill="none"/><path d="M1000.85,683.37V724.97M993.05,683.37H1008.65M993.05,724.97H1008.65" stroke="#1b72c6" stroke-width="2.6" fill="none"/><path d="M1008.59,685.72V727.39M1000.79,685.72H1016.38M1000.79,727.39H1016.38" stroke="#1b72c6" stroke-width="2.6" fill="none"/><path d="M1016.32,688.08V729.81M1008.52,688.08H1024.12M1008.52,729.81H1024.12" stroke="#1b72c6" stroke-width="2.6" fill="none"/><path d="M1024.06,690.43V732.23M1016.26,690.43H1031.86M1016.26,732.23H1031.86" stroke="#1b72c6" stroke-width="2.6" fill="none"/><path d="M1031.8,692.79V734.66M1024,692.79H1039.6M1024,734.66H1039.6" stroke="#1b72c6" stroke-width="2.6" fill="none"/><path d="M1039.54,695.14V737.08M1031.74,695.14H1047.34M1031.74,737.08H1047.34" stroke="#1b72c6" stroke-width="2.6" fill="none"/><path d="M1047.28,697.5V739.5M1039.48,697.5H1055.08M1039.48,739.5H1055.08" stroke="#1b72c6" stroke-width="2.6" fill="none"/><path d="M1062.76,702.5V743.5M1054.96,702.5H1070.56M1054.96,743.5H1070.56" stroke="#1b72c6" stroke-width="2.6" fill="none"/><path d="M1070.5,705.74V746.86M1062.7,705.74H1078.3M1062.7,746.86H1078.3" stroke="#1b72c6" stroke-width="2.6" fill="none"/><path d="M1078.24,708.99V750.21M1070.44,708.99H1086.04M1070.44,750.21H1086.04" stroke="#1b72c6" stroke-width="2.6" fill="none"/><path d="M1085.97,712.23V753.57M1078.17,712.23H1093.77M1078.17,753.57H1093.77" stroke="#1b72c6" stroke-width="2.6" fill="none"/><path d="M1093.71,715.48V756.92M1085.91,715.48H1101.51M1085.91,756.92H1101.51" stroke="#1b72c6" stroke-width="2.6" fill="none"/><path d="M1101.45,718.72V760.28M1093.65,718.72H1109.25M1093.65,760.28H1109.25" stroke="#1b72c6" stroke-width="2.6" fill="none"/><path d="M1109.19,721.97V763.63M1101.39,721.97H1116.99M1101.39,763.63H1116.99" stroke="#1b72c6" stroke-width="2.6" fill="none"/><path d="M1116.93,725.21V766.99M1109.13,725.21H1124.73M1109.13,766.99H1124.73" stroke="#1b72c6" stroke-width="2.6" fill="none"/><path d="M1124.67,728.46V770.34M1116.87,728.46H1132.47M1116.87,770.34H1132.47" stroke="#1b72c6" stroke-width="2.6" fill="none"/><path d="M1132.41,731.7V773.7M1124.61,731.7H1140.21M1124.61,773.7H1140.21" stroke="#1b72c6" stroke-width="2.6" fill="none"/><path d="M1147.89,737.5V777.5M1140.09,737.5H1155.69M1140.09,777.5H1155.69" stroke="#1b72c6" stroke-width="2.6" fill="none"/><path d="M1155.63,741V781M1147.83,741H1163.43M1147.83,781H1163.43" stroke="#1b72c6" stroke-width="2.6" fill="none"/><path d="M1163.36,744.5V784.5M1155.56,744.5H1171.16M1155.56,784.5H1171.16" stroke="#1b72c6" stroke-width="2.6" fill="none"/><path d="M1171.1,748V788M1163.3,748H1178.9M1163.3,788H1178.9" stroke="#1b72c6" stroke-width="2.6" fill="none"/><path d="M1178.84,751.5V791.5M1171.04,751.5H1186.64M1171.04,791.5H1186.64" stroke="#1b72c6" stroke-width="2.6" fill="none"/><path d="M1186.58,755V795M1178.78,755H1194.38M1178.78,795H1194.38" stroke="#1b72c6" stroke-width="2.6" fill="none"/><path d="M1194.32,758.5V798.5M1186.52,758.5H1202.12M1186.52,798.5H1202.12" stroke="#1b72c6" stroke-width="2.6" fill="none"/><path d="M1202.06,762V802M1194.26,762H1209.86M1194.26,802H1209.86" stroke="#1b72c6" stroke-width="2.6" fill="none"/><path d="M1209.8,765.5V805.5M1202,765.5H1217.6M1202,805.5H1217.6" stroke="#1b72c6" stroke-width="2.6" fill="none"/><path d="M1217.54,769V809M1209.74,769H1225.34M1209.74,809H1225.34" stroke="#1b72c6" stroke-width="2.6" fill="none"/><path d="M1233.02,773.6V812.8M1225.22,773.6H1240.82M1225.22,812.8H1240.82" stroke="#1b72c6" stroke-width="2.6" fill="none"/><path d="M1240.75,777V816.2M1232.95,777H1248.55M1232.95,816.2H1248.55" stroke="#1b72c6" stroke-width="2.6" fill="none"/><path d="M1248.49,780.4V819.6M1240.69,780.4H1256.29M1240.69,819.6H1256.29" stroke="#1b72c6" stroke-width="2.6" fill="none"/><path d="M1256.23,783.8V823M1248.43,783.8H1264.03M1248.43,823H1264.03" stroke="#1b72c6" stroke-width="2.6" fill="none"/><path d="M1263.97,787.2V826.4M1256.17,787.2H1271.77M1256.17,826.4H1271.77" stroke="#1b72c6" stroke-width="2.6" fill="none"/><path d="M1271.71,790.6V829.8M1263.91,790.6H1279.51M1263.91,829.8H1279.51" stroke="#1b72c6" stroke-width="2.6" fill="none"/><path d="M1279.45,794V833.2M1271.65,794H1287.25M1271.65,833.2H1287.25" stroke="#1b72c6" stroke-width="2.6" fill="none"/><path d="M1287.19,797.4V836.6M1279.39,797.4H1294.99M1279.39,836.6H1294.99" stroke="#1b72c6" stroke-width="2.6" fill="none"/><path d="M1294.93,800.8V840M1287.13,800.8H1302.73M1287.13,840H1302.73" stroke="#1b72c6" stroke-width="2.6" fill="none"/><path d="M1302.67,804.2V843.4M1294.87,804.2H1310.47M1294.87,843.4H1310.47" stroke="#1b72c6" stroke-width="2.6" fill="none"/><path d="M1329.75,816.9V852.9M1321.95,816.9H1337.55M1321.95,852.9H1337.55" stroke="#1b72c6" stroke-width="2.6" fill="none"/><path d="M1337.49,820.99V856.77M1329.69,820.99H1345.29M1329.69,856.77H1345.29" stroke="#1b72c6" stroke-width="2.6" fill="none"/><path d="M1345.23,825.08V860.63M1337.43,825.08H1353.03M1337.43,860.63H1353.03" stroke="#1b72c6" stroke-width="2.6" fill="none"/><path d="M1352.97,829.17V864.5M1345.17,829.17H1360.77M1345.17,864.5H1360.77" stroke="#1b72c6" stroke-width="2.6" fill="none"/><path d="M1360.71,833.26V868.37M1352.91,833.26H1368.51M1352.91,868.37H1368.51" stroke="#1b72c6" stroke-width="2.6" fill="none"/><path d="M1368.45,837.34V872.23M1360.65,837.34H1376.25M1360.65,872.23H1376.25" stroke="#1b72c6" stroke-width="2.6" fill="none"/><path d="M1376.19,841.43V876.1M1368.39,841.43H1383.99M1368.39,876.1H1383.99" stroke="#1b72c6" stroke-width="2.6" fill="none"/><path d="M1383.93,845.52V879.97M1376.13,845.52H1391.73M1376.13,879.97H1391.73" stroke="#1b72c6" stroke-width="2.6" fill="none"/><path d="M1391.67,849.61V883.83M1383.87,849.61H1399.47M1383.87,883.83H1399.47" stroke="#1b72c6" stroke-width="2.6" fill="none"/><path d="M1399.4,853.7V887.7M1391.6,853.7H1407.2M1391.6,887.7H1407.2" stroke="#1b72c6" stroke-width="2.6" fill="none"/><path d="M1414.88,860.8V891.8M1407.08,860.8H1422.68M1407.08,891.8H1422.68" stroke="#1b72c6" stroke-width="2.6" fill="none"/><path d="M1422.62,864.06V894.39M1414.82,864.06H1430.42M1414.82,894.39H1430.42" stroke="#1b72c6" stroke-width="2.6" fill="none"/><path d="M1430.36,867.31V896.98M1422.56,867.31H1438.16M1422.56,896.98H1438.16" stroke="#1b72c6" stroke-width="2.6" fill="none"/><path d="M1438.1,870.57V899.57M1430.3,870.57H1445.9M1430.3,899.57H1445.9" stroke="#1b72c6" stroke-width="2.6" fill="none"/><path d="M1445.84,873.82V902.16M1438.04,873.82H1453.64M1438.04,902.16H1453.64" stroke="#1b72c6" stroke-width="2.6" fill="none"/><path d="M1453.58,877.08V904.74M1445.78,877.08H1461.38M1445.78,904.74H1461.38" stroke="#1b72c6" stroke-width="2.6" fill="none"/><path d="M1461.32,880.33V907.33M1453.52,880.33H1469.12M1453.52,907.33H1469.12" stroke="#1b72c6" stroke-width="2.6" fill="none"/><path d="M1469.06,883.59V909.92M1461.26,883.59H1476.86M1461.26,909.92H1476.86" stroke="#1b72c6" stroke-width="2.6" fill="none"/><path d="M1476.79,886.84V912.51M1468.99,886.84H1484.59M1468.99,912.51H1484.59" stroke="#1b72c6" stroke-width="2.6" fill="none"/><path d="M1484.53,890.1V915.1M1476.73,890.1H1492.33M1476.73,915.1H1492.33" stroke="#1b72c6" stroke-width="2.6" fill="none"/>
<path d="M276.19,645.83L293.79,645.83L284.99,659.83Z" fill="none" stroke="#1b72c6" stroke-width="2.9"/><path d="M283.93,639.13L301.53,639.13L292.73,653.13Z" fill="none" stroke="#1b72c6" stroke-width="2.9"/><path d="M291.67,634.43L309.27,634.43L300.47,648.43Z" fill="none" stroke="#1b72c6" stroke-width="2.9"/><path d="M299.41,630.53L317.01,630.53L308.21,644.53Z" fill="none" stroke="#1b72c6" stroke-width="2.9"/><path d="M307.14,627.73L324.74,627.73L315.94,641.73Z" fill="none" stroke="#1b72c6" stroke-width="2.9"/><path d="M314.88,625.83L332.48,625.83L323.68,639.83Z" fill="none" stroke="#1b72c6" stroke-width="2.9"/><path d="M322.62,623.93L340.22,623.93L331.42,637.93Z" fill="none" stroke="#1b72c6" stroke-width="2.9"/><path d="M330.36,622.93L347.96,622.93L339.16,636.93Z" fill="none" stroke="#1b72c6" stroke-width="2.9"/><path d="M338.1,622.03L355.7,622.03L346.9,636.03Z" fill="none" stroke="#1b72c6" stroke-width="2.9"/><path d="M345.84,622.03L363.44,622.03L354.64,636.03Z" fill="none" stroke="#1b72c6" stroke-width="2.9"/><path d="M361.32,621.03L378.92,621.03L370.12,635.03Z" fill="none" stroke="#1b72c6" stroke-width="2.9"/><path d="M369.06,620.92L386.66,620.92L377.86,634.92Z" fill="none" stroke="#1b72c6" stroke-width="2.9"/><path d="M376.8,620.81L394.4,620.81L385.6,634.81Z" fill="none" stroke="#1b72c6" stroke-width="2.9"/><path d="M384.53,620.7L402.13,620.7L393.33,634.7Z" fill="none" stroke="#1b72c6" stroke-width="2.9"/><path d="M392.27,620.59L409.87,620.59L401.07,634.59Z" fill="none" stroke="#1b72c6" stroke-width="2.9"/><path d="M400.01,620.48L417.61,620.48L408.81,634.48Z" fill="none" stroke="#1b72c6" stroke-width="2.9"/><path d="M407.75,620.37L425.35,620.37L416.55,634.37Z" fill="none" stroke="#1b72c6" stroke-width="2.9"/><path d="M415.49,620.26L433.09,620.26L424.29,634.26Z" fill="none" stroke="#1b72c6" stroke-width="2.9"/><path d="M423.23,620.14L440.83,620.14L432.03,634.14Z" fill="none" stroke="#1b72c6" stroke-width="2.9"/><path d="M430.97,620.03L448.57,620.03L439.77,634.03Z" fill="none" stroke="#1b72c6" stroke-width="2.9"/><path d="M446.45,620.83L464.05,620.83L455.25,634.83Z" fill="none" stroke="#1b72c6" stroke-width="2.9"/><path d="M454.19,620.83L471.79,620.83L462.99,634.83Z" fill="none" stroke="#1b72c6" stroke-width="2.9"/><path d="M461.92,620.83L479.52,620.83L470.72,634.83Z" fill="none" stroke="#1b72c6" stroke-width="2.9"/><path d="M469.66,620.83L487.26,620.83L478.46,634.83Z" fill="none" stroke="#1b72c6" stroke-width="2.9"/><path d="M477.4,620.83L495,620.83L486.2,634.83Z" fill="none" stroke="#1b72c6" stroke-width="2.9"/><path d="M485.14,620.83L502.74,620.83L493.94,634.83Z" fill="none" stroke="#1b72c6" stroke-width="2.9"/><path d="M492.88,620.83L510.48,620.83L501.68,634.83Z" fill="none" stroke="#1b72c6" stroke-width="2.9"/><path d="M500.62,620.83L518.22,620.83L509.42,634.83Z" fill="none" stroke="#1b72c6" stroke-width="2.9"/><path d="M508.36,620.83L525.96,620.83L517.16,634.83Z" fill="none" stroke="#1b72c6" stroke-width="2.9"/><path d="M516.1,620.83L533.7,620.83L524.9,634.83Z" fill="none" stroke="#1b72c6" stroke-width="2.9"/><path d="M531.58,621.03L549.18,621.03L540.38,635.03Z" fill="none" stroke="#1b72c6" stroke-width="2.9"/><path d="M539.31,621.24L556.91,621.24L548.11,635.24Z" fill="none" stroke="#1b72c6" stroke-width="2.9"/><path d="M547.05,621.46L564.65,621.46L555.85,635.46Z" fill="none" stroke="#1b72c6" stroke-width="2.9"/><path d="M554.79,621.67L572.39,621.67L563.59,635.67Z" fill="none" stroke="#1b72c6" stroke-width="2.9"/><path d="M562.53,621.88L580.13,621.88L571.33,635.88Z" fill="none" stroke="#1b72c6" stroke-width="2.9"/><path d="M570.27,622.09L587.87,622.09L579.07,636.09Z" fill="none" stroke="#1b72c6" stroke-width="2.9"/><path d="M578.01,622.3L595.61,622.3L586.81,636.3Z" fill="none" stroke="#1b72c6" stroke-width="2.9"/><path d="M585.75,622.51L603.35,622.51L594.55,636.51Z" fill="none" stroke="#1b72c6" stroke-width="2.9"/><path d="M593.49,622.72L611.09,622.72L602.29,636.72Z" fill="none" stroke="#1b72c6" stroke-width="2.9"/><path d="M601.23,622.93L618.83,622.93L610.03,636.93Z" fill="none" stroke="#1b72c6" stroke-width="2.9"/><path d="M616.7,625.83L634.3,625.83L625.5,639.83Z" fill="none" stroke="#1b72c6" stroke-width="2.9"/><path d="M624.44,625.93L642.04,625.93L633.24,639.93Z" fill="none" stroke="#1b72c6" stroke-width="2.9"/><path d="M632.18,626.03L649.78,626.03L640.98,640.03Z" fill="none" stroke="#1b72c6" stroke-width="2.9"/><path d="M639.92,626.13L657.52,626.13L648.72,640.13Z" fill="none" stroke="#1b72c6" stroke-width="2.9"/><path d="M647.66,626.23L665.26,626.23L656.46,640.23Z" fill="none" stroke="#1b72c6" stroke-width="2.9"/><path d="M655.4,626.33L673,626.33L664.2,640.33Z" fill="none" stroke="#1b72c6" stroke-width="2.9"/><path d="M663.14,626.43L680.74,626.43L671.94,640.43Z" fill="none" stroke="#1b72c6" stroke-width="2.9"/><path d="M670.88,626.53L688.48,626.53L679.68,640.53Z" fill="none" stroke="#1b72c6" stroke-width="2.9"/><path d="M678.62,626.63L696.22,626.63L687.42,640.63Z" fill="none" stroke="#1b72c6" stroke-width="2.9"/><path d="M686.36,626.73L703.96,626.73L695.16,640.73Z" fill="none" stroke="#1b72c6" stroke-width="2.9"/><path d="M701.83,628.73L719.43,628.73L710.63,642.73Z" fill="none" stroke="#1b72c6" stroke-width="2.9"/><path d="M709.57,629.37L727.17,629.37L718.37,643.37Z" fill="none" stroke="#1b72c6" stroke-width="2.9"/><path d="M717.31,630L734.91,630L726.11,644Z" fill="none" stroke="#1b72c6" stroke-width="2.9"/><path d="M725.05,630.63L742.65,630.63L733.85,644.63Z" fill="none" stroke="#1b72c6" stroke-width="2.9"/><path d="M732.79,631.27L750.39,631.27L741.59,645.27Z" fill="none" stroke="#1b72c6" stroke-width="2.9"/><path d="M740.53,631.9L758.13,631.9L749.33,645.9Z" fill="none" stroke="#1b72c6" stroke-width="2.9"/><path d="M748.27,632.53L765.87,632.53L757.07,646.53Z" fill="none" stroke="#1b72c6" stroke-width="2.9"/><path d="M756.01,633.17L773.61,633.17L764.81,647.17Z" fill="none" stroke="#1b72c6" stroke-width="2.9"/><path d="M763.75,633.8L781.35,633.8L772.55,647.8Z" fill="none" stroke="#1b72c6" stroke-width="2.9"/><path d="M771.48,634.43L789.08,634.43L780.28,648.43Z" fill="none" stroke="#1b72c6" stroke-width="2.9"/><path d="M786.96,644.03L804.56,644.03L795.76,658.03Z" fill="none" stroke="#1b72c6" stroke-width="2.9"/><path d="M794.7,645.48L812.3,645.48L803.5,659.48Z" fill="none" stroke="#1b72c6" stroke-width="2.9"/><path d="M802.44,646.92L820.04,646.92L811.24,660.92Z" fill="none" stroke="#1b72c6" stroke-width="2.9"/><path d="M810.18,648.37L827.78,648.37L818.98,662.37Z" fill="none" stroke="#1b72c6" stroke-width="2.9"/><path d="M817.92,649.81L835.52,649.81L826.72,663.81Z" fill="none" stroke="#1b72c6" stroke-width="2.9"/><path d="M825.66,651.26L843.26,651.26L834.46,665.26Z" fill="none" stroke="#1b72c6" stroke-width="2.9"/><path d="M833.4,652.7L851,652.7L842.2,666.7Z" fill="none" stroke="#1b72c6" stroke-width="2.9"/><path d="M841.14,654.14L858.74,654.14L849.94,668.14Z" fill="none" stroke="#1b72c6" stroke-width="2.9"/><path d="M848.87,655.59L866.47,655.59L857.67,669.59Z" fill="none" stroke="#1b72c6" stroke-width="2.9"/><path d="M856.61,657.03L874.21,657.03L865.41,671.03Z" fill="none" stroke="#1b72c6" stroke-width="2.9"/><path d="M872.09,665.53L889.69,665.53L880.89,679.53Z" fill="none" stroke="#1b72c6" stroke-width="2.9"/><path d="M879.83,667.51L897.43,667.51L888.63,681.51Z" fill="none" stroke="#1b72c6" stroke-width="2.9"/><path d="M887.57,669.49L905.17,669.49L896.37,683.49Z" fill="none" stroke="#1b72c6" stroke-width="2.9"/><path d="M895.31,671.47L912.91,671.47L904.11,685.47Z" fill="none" stroke="#1b72c6" stroke-width="2.9"/><path d="M903.05,673.44L920.65,673.44L911.85,687.44Z" fill="none" stroke="#1b72c6" stroke-width="2.9"/><path d="M910.79,675.42L928.39,675.42L919.59,689.42Z" fill="none" stroke="#1b72c6" stroke-width="2.9"/><path d="M918.53,677.4L936.13,677.4L927.33,691.4Z" fill="none" stroke="#1b72c6" stroke-width="2.9"/><path d="M926.26,679.38L943.86,679.38L935.06,693.38Z" fill="none" stroke="#1b72c6" stroke-width="2.9"/><path d="M934,681.36L951.6,681.36L942.8,695.36Z" fill="none" stroke="#1b72c6" stroke-width="2.9"/><path d="M941.74,683.33L959.34,683.33L950.54,697.33Z" fill="none" stroke="#1b72c6" stroke-width="2.9"/><path d="M968.83,692.33L986.43,692.33L977.63,706.33Z" fill="none" stroke="#1b72c6" stroke-width="2.9"/><path d="M976.57,694.72L994.17,694.72L985.37,708.72Z" fill="none" stroke="#1b72c6" stroke-width="2.9"/><path d="M984.31,697.11L1001.91,697.11L993.11,711.11Z" fill="none" stroke="#1b72c6" stroke-width="2.9"/><path d="M992.05,699.5L1009.65,699.5L1000.85,713.5Z" fill="none" stroke="#1b72c6" stroke-width="2.9"/><path d="M999.79,701.89L1017.38,701.89L1008.59,715.89Z" fill="none" stroke="#1b72c6" stroke-width="2.9"/><path d="M1007.52,704.28L1025.12,704.28L1016.32,718.28Z" fill="none" stroke="#1b72c6" stroke-width="2.9"/><path d="M1015.26,706.67L1032.86,706.67L1024.06,720.67Z" fill="none" stroke="#1b72c6" stroke-width="2.9"/><path d="M1023,709.06L1040.6,709.06L1031.8,723.06Z" fill="none" stroke="#1b72c6" stroke-width="2.9"/><path d="M1030.74,711.44L1048.34,711.44L1039.54,725.44Z" fill="none" stroke="#1b72c6" stroke-width="2.9"/><path d="M1038.48,713.83L1056.08,713.83L1047.28,727.83Z" fill="none" stroke="#1b72c6" stroke-width="2.9"/><path d="M1053.96,718.33L1071.56,718.33L1062.76,732.33Z" fill="none" stroke="#1b72c6" stroke-width="2.9"/><path d="M1061.7,721.63L1079.3,721.63L1070.5,735.63Z" fill="none" stroke="#1b72c6" stroke-width="2.9"/><path d="M1069.44,724.93L1087.04,724.93L1078.24,738.93Z" fill="none" stroke="#1b72c6" stroke-width="2.9"/><path d="M1077.17,728.23L1094.77,728.23L1085.97,742.23Z" fill="none" stroke="#1b72c6" stroke-width="2.9"/><path d="M1084.91,731.53L1102.51,731.53L1093.71,745.53Z" fill="none" stroke="#1b72c6" stroke-width="2.9"/><path d="M1092.65,734.83L1110.25,734.83L1101.45,748.83Z" fill="none" stroke="#1b72c6" stroke-width="2.9"/><path d="M1100.39,738.13L1117.99,738.13L1109.19,752.13Z" fill="none" stroke="#1b72c6" stroke-width="2.9"/><path d="M1108.13,741.43L1125.73,741.43L1116.93,755.43Z" fill="none" stroke="#1b72c6" stroke-width="2.9"/><path d="M1115.87,744.73L1133.47,744.73L1124.67,758.73Z" fill="none" stroke="#1b72c6" stroke-width="2.9"/><path d="M1123.61,748.03L1141.21,748.03L1132.41,762.03Z" fill="none" stroke="#1b72c6" stroke-width="2.9"/><path d="M1139.09,752.83L1156.69,752.83L1147.89,766.83Z" fill="none" stroke="#1b72c6" stroke-width="2.9"/><path d="M1146.83,756.33L1164.43,756.33L1155.63,770.33Z" fill="none" stroke="#1b72c6" stroke-width="2.9"/><path d="M1154.56,759.83L1172.16,759.83L1163.36,773.83Z" fill="none" stroke="#1b72c6" stroke-width="2.9"/><path d="M1162.3,763.33L1179.9,763.33L1171.1,777.33Z" fill="none" stroke="#1b72c6" stroke-width="2.9"/><path d="M1170.04,766.83L1187.64,766.83L1178.84,780.83Z" fill="none" stroke="#1b72c6" stroke-width="2.9"/><path d="M1177.78,770.33L1195.38,770.33L1186.58,784.33Z" fill="none" stroke="#1b72c6" stroke-width="2.9"/><path d="M1185.52,773.83L1203.12,773.83L1194.32,787.83Z" fill="none" stroke="#1b72c6" stroke-width="2.9"/><path d="M1193.26,777.33L1210.86,777.33L1202.06,791.33Z" fill="none" stroke="#1b72c6" stroke-width="2.9"/><path d="M1201,780.83L1218.6,780.83L1209.8,794.83Z" fill="none" stroke="#1b72c6" stroke-width="2.9"/><path d="M1208.74,784.33L1226.34,784.33L1217.54,798.33Z" fill="none" stroke="#1b72c6" stroke-width="2.9"/><path d="M1224.22,788.53L1241.82,788.53L1233.02,802.53Z" fill="none" stroke="#1b72c6" stroke-width="2.9"/><path d="M1231.95,791.93L1249.55,791.93L1240.75,805.93Z" fill="none" stroke="#1b72c6" stroke-width="2.9"/><path d="M1239.69,795.33L1257.29,795.33L1248.49,809.33Z" fill="none" stroke="#1b72c6" stroke-width="2.9"/><path d="M1247.43,798.73L1265.03,798.73L1256.23,812.73Z" fill="none" stroke="#1b72c6" stroke-width="2.9"/><path d="M1255.17,802.13L1272.77,802.13L1263.97,816.13Z" fill="none" stroke="#1b72c6" stroke-width="2.9"/><path d="M1262.91,805.53L1280.51,805.53L1271.71,819.53Z" fill="none" stroke="#1b72c6" stroke-width="2.9"/><path d="M1270.65,808.93L1288.25,808.93L1279.45,822.93Z" fill="none" stroke="#1b72c6" stroke-width="2.9"/><path d="M1278.39,812.33L1295.99,812.33L1287.19,826.33Z" fill="none" stroke="#1b72c6" stroke-width="2.9"/><path d="M1286.13,815.73L1303.73,815.73L1294.93,829.73Z" fill="none" stroke="#1b72c6" stroke-width="2.9"/><path d="M1293.87,819.13L1311.47,819.13L1302.67,833.13Z" fill="none" stroke="#1b72c6" stroke-width="2.9"/><path d="M1320.95,830.23L1338.55,830.23L1329.75,844.23Z" fill="none" stroke="#1b72c6" stroke-width="2.9"/><path d="M1328.69,834.21L1346.29,834.21L1337.49,848.21Z" fill="none" stroke="#1b72c6" stroke-width="2.9"/><path d="M1336.43,838.19L1354.03,838.19L1345.23,852.19Z" fill="none" stroke="#1b72c6" stroke-width="2.9"/><path d="M1344.17,842.17L1361.77,842.17L1352.97,856.17Z" fill="none" stroke="#1b72c6" stroke-width="2.9"/><path d="M1351.91,846.14L1369.51,846.14L1360.71,860.14Z" fill="none" stroke="#1b72c6" stroke-width="2.9"/><path d="M1359.65,850.12L1377.25,850.12L1368.45,864.12Z" fill="none" stroke="#1b72c6" stroke-width="2.9"/><path d="M1367.39,854.1L1384.99,854.1L1376.19,868.1Z" fill="none" stroke="#1b72c6" stroke-width="2.9"/><path d="M1375.13,858.08L1392.73,858.08L1383.93,872.08Z" fill="none" stroke="#1b72c6" stroke-width="2.9"/><path d="M1382.87,862.06L1400.47,862.06L1391.67,876.06Z" fill="none" stroke="#1b72c6" stroke-width="2.9"/><path d="M1390.6,866.03L1408.2,866.03L1399.4,880.03Z" fill="none" stroke="#1b72c6" stroke-width="2.9"/><path d="M1406.08,871.63L1423.68,871.63L1414.88,885.63Z" fill="none" stroke="#1b72c6" stroke-width="2.9"/><path d="M1413.82,874.56L1431.42,874.56L1422.62,888.56Z" fill="none" stroke="#1b72c6" stroke-width="2.9"/><path d="M1421.56,877.48L1439.16,877.48L1430.36,891.48Z" fill="none" stroke="#1b72c6" stroke-width="2.9"/><path d="M1429.3,880.4L1446.9,880.4L1438.1,894.4Z" fill="none" stroke="#1b72c6" stroke-width="2.9"/><path d="M1437.04,883.32L1454.64,883.32L1445.84,897.32Z" fill="none" stroke="#1b72c6" stroke-width="2.9"/><path d="M1444.78,886.24L1462.38,886.24L1453.58,900.24Z" fill="none" stroke="#1b72c6" stroke-width="2.9"/><path d="M1452.52,889.17L1470.12,889.17L1461.32,903.17Z" fill="none" stroke="#1b72c6" stroke-width="2.9"/><path d="M1460.26,892.09L1477.86,892.09L1469.06,906.09Z" fill="none" stroke="#1b72c6" stroke-width="2.9"/><path d="M1467.99,895.01L1485.59,895.01L1476.79,909.01Z" fill="none" stroke="#1b72c6" stroke-width="2.9"/><path d="M1475.73,897.93L1493.33,897.93L1484.53,911.93Z" fill="none" stroke="#1b72c6" stroke-width="2.9"/>
<path d="M284.99,707V768M277.19,707H292.79M277.19,768H292.79" stroke="#7e2e8d" stroke-width="2.6" fill="none"/><path d="M292.73,697.4V756.6M284.93,697.4H300.53M284.93,756.6H300.53" stroke="#7e2e8d" stroke-width="2.6" fill="none"/><path d="M300.47,683.5V751.3M292.67,683.5H308.27M292.67,751.3H308.27" stroke="#7e2e8d" stroke-width="2.6" fill="none"/><path d="M308.21,673V746.6M300.41,673H316.01M300.41,746.6H316.01" stroke="#7e2e8d" stroke-width="2.6" fill="none"/><path d="M315.94,663.5V746.5M308.14,663.5H323.74M308.14,746.5H323.74" stroke="#7e2e8d" stroke-width="2.6" fill="none"/><path d="M323.68,657.3V745.1M315.88,657.3H331.48M315.88,745.1H331.48" stroke="#7e2e8d" stroke-width="2.6" fill="none"/><path d="M331.42,654.5V744.1M323.62,654.5H339.22M323.62,744.1H339.22" stroke="#7e2e8d" stroke-width="2.6" fill="none"/><path d="M339.16,652.5V744.1M331.36,652.5H346.96M331.36,744.1H346.96" stroke="#7e2e8d" stroke-width="2.6" fill="none"/><path d="M346.9,652V744.6M339.1,652H354.7M339.1,744.6H354.7" stroke="#7e2e8d" stroke-width="2.6" fill="none"/><path d="M354.64,653V745.6M346.84,653H362.44M346.84,745.6H362.44" stroke="#7e2e8d" stroke-width="2.6" fill="none"/><path d="M370.12,679.3V761.3M362.32,679.3H377.92M362.32,761.3H377.92" stroke="#7e2e8d" stroke-width="2.6" fill="none"/><path d="M377.86,672.38V754.82M370.06,672.38H385.66M370.06,754.82H385.66" stroke="#7e2e8d" stroke-width="2.6" fill="none"/><path d="M385.6,667.36V750.24M377.8,667.36H393.4M377.8,750.24H393.4" stroke="#7e2e8d" stroke-width="2.6" fill="none"/><path d="M393.33,664.33V747.67M385.53,664.33H401.13M385.53,747.67H401.13" stroke="#7e2e8d" stroke-width="2.6" fill="none"/><path d="M401.07,662.11V745.89M393.27,662.11H408.87M393.27,745.89H408.87" stroke="#7e2e8d" stroke-width="2.6" fill="none"/><path d="M408.81,661.89V746.11M401.01,661.89H416.61M401.01,746.11H416.61" stroke="#7e2e8d" stroke-width="2.6" fill="none"/><path d="M416.55,661.67V746.33M408.75,661.67H424.35M408.75,746.33H424.35" stroke="#7e2e8d" stroke-width="2.6" fill="none"/><path d="M424.29,661.44V746.56M416.49,661.44H432.09M416.49,746.56H432.09" stroke="#7e2e8d" stroke-width="2.6" fill="none"/><path d="M432.03,661.22V746.78M424.23,661.22H439.83M424.23,746.78H439.83" stroke="#7e2e8d" stroke-width="2.6" fill="none"/><path d="M439.77,663V749M431.97,663H447.57M431.97,749H447.57" stroke="#7e2e8d" stroke-width="2.6" fill="none"/><path d="M455.25,691.6V760.4M447.45,691.6H463.05M447.45,760.4H463.05" stroke="#7e2e8d" stroke-width="2.6" fill="none"/><path d="M462.99,686.73V755.67M455.19,686.73H470.79M455.19,755.67H470.79" stroke="#7e2e8d" stroke-width="2.6" fill="none"/><path d="M470.72,684.77V753.83M462.92,684.77H478.52M462.92,753.83H478.52" stroke="#7e2e8d" stroke-width="2.6" fill="none"/><path d="M478.46,683.8V753M470.66,683.8H486.26M470.66,753H486.26" stroke="#7e2e8d" stroke-width="2.6" fill="none"/><path d="M486.2,682.73V752.07M478.4,682.73H494M478.4,752.07H494" stroke="#7e2e8d" stroke-width="2.6" fill="none"/><path d="M493.94,682.67V752.13M486.14,682.67H501.74M486.14,752.13H501.74" stroke="#7e2e8d" stroke-width="2.6" fill="none"/><path d="M501.68,682.6V752.2M493.88,682.6H509.48M493.88,752.2H509.48" stroke="#7e2e8d" stroke-width="2.6" fill="none"/><path d="M509.42,682.53V752.27M501.62,682.53H517.22M501.62,752.27H517.22" stroke="#7e2e8d" stroke-width="2.6" fill="none"/><path d="M517.16,682.47V752.33M509.36,682.47H524.96M509.36,752.33H524.96" stroke="#7e2e8d" stroke-width="2.6" fill="none"/><path d="M524.9,683.4V753.4M517.1,683.4H532.7M517.1,753.4H532.7" stroke="#7e2e8d" stroke-width="2.6" fill="none"/><path d="M540.38,712.2V774.2M532.58,712.2H548.18M532.58,774.2H548.18" stroke="#7e2e8d" stroke-width="2.6" fill="none"/><path d="M548.11,708.07V768.73M540.31,708.07H555.91M540.31,768.73H555.91" stroke="#7e2e8d" stroke-width="2.6" fill="none"/><path d="M555.85,704.93V764.27M548.05,704.93H563.65M548.05,764.27H563.65" stroke="#7e2e8d" stroke-width="2.6" fill="none"/><path d="M563.59,703.7V761.7M555.79,703.7H571.39M555.79,761.7H571.39" stroke="#7e2e8d" stroke-width="2.6" fill="none"/><path d="M571.33,703.37V760.03M563.53,703.37H579.13M563.53,760.03H579.13" stroke="#7e2e8d" stroke-width="2.6" fill="none"/><path d="M579.07,704.03V759.37M571.27,704.03H586.87M571.27,759.37H586.87" stroke="#7e2e8d" stroke-width="2.6" fill="none"/><path d="M586.81,704.7V758.7M579.01,704.7H594.61M579.01,758.7H594.61" stroke="#7e2e8d" stroke-width="2.6" fill="none"/><path d="M594.55,706.37V759.03M586.75,706.37H602.35M586.75,759.03H602.35" stroke="#7e2e8d" stroke-width="2.6" fill="none"/><path d="M602.29,707.93V759.27M594.49,707.93H610.09M594.49,759.27H610.09" stroke="#7e2e8d" stroke-width="2.6" fill="none"/><path d="M610.03,710.5V760.5M602.23,710.5H617.83M602.23,760.5H617.83" stroke="#7e2e8d" stroke-width="2.6" fill="none"/><path d="M625.5,753.2V786M617.7,753.2H633.3M617.7,786H633.3" stroke="#7e2e8d" stroke-width="2.6" fill="none"/><path d="M633.24,753.6V785.6M625.44,753.6H641.04M625.44,785.6H641.04" stroke="#7e2e8d" stroke-width="2.6" fill="none"/><path d="M640.98,755.2V785.2M633.18,755.2H648.78M633.18,785.2H648.78" stroke="#7e2e8d" stroke-width="2.6" fill="none"/><path d="M648.72,756.9V784.9M640.92,756.9H656.52M640.92,784.9H656.52" stroke="#7e2e8d" stroke-width="2.6" fill="none"/><path d="M656.46,760.5V784.5M648.66,760.5H664.26M648.66,784.5H664.26" stroke="#7e2e8d" stroke-width="2.6" fill="none"/><path d="M664.2,765.3V785.3M656.4,765.3H672M656.4,785.3H672" stroke="#7e2e8d" stroke-width="2.6" fill="none"/><path d="M671.94,771.1V787.1M664.14,771.1H679.74M664.14,787.1H679.74" stroke="#7e2e8d" stroke-width="2.6" fill="none"/><path d="M679.68,777V789M671.88,777H687.48M671.88,789H687.48" stroke="#7e2e8d" stroke-width="2.6" fill="none"/><path d="M687.42,783.7V791.7M679.62,783.7H695.22M679.62,791.7H695.22" stroke="#7e2e8d" stroke-width="2.6" fill="none"/><path d="M695.16,790.5V794.5M687.36,790.5H702.96M687.36,794.5H702.96" stroke="#7e2e8d" stroke-width="2.6" fill="none"/><path d="M722.24,820.2V906.2M714.44,820.2H730.04M714.44,906.2H730.04" stroke="#7e2e8d" stroke-width="2.6" fill="none"/><path d="M729.98,820.69V909.51M722.18,820.69H737.78M722.18,909.51H737.78" stroke="#7e2e8d" stroke-width="2.6" fill="none"/><path d="M737.72,821.78V913.42M729.92,821.78H745.52M729.92,913.42H745.52" stroke="#7e2e8d" stroke-width="2.6" fill="none"/><path d="M745.46,824.57V919.03M737.66,824.57H753.26M737.66,919.03H753.26" stroke="#7e2e8d" stroke-width="2.6" fill="none"/><path d="M753.2,827.86V925.14M745.4,827.86H761M745.4,925.14H761" stroke="#7e2e8d" stroke-width="2.6" fill="none"/><path d="M760.94,831.24V931.36M753.14,831.24H768.74M753.14,931.36H768.74" stroke="#7e2e8d" stroke-width="2.6" fill="none"/><path d="M768.68,834.63V937.57M760.88,834.63H776.48M760.88,937.57H776.48" stroke="#7e2e8d" stroke-width="2.6" fill="none"/><path d="M776.41,838.92V944.68M768.62,838.92H784.21M768.62,944.68H784.21" stroke="#7e2e8d" stroke-width="2.6" fill="none"/><path d="M784.15,844.21V952.79M776.35,844.21H791.95M776.35,952.79H791.95" stroke="#7e2e8d" stroke-width="2.6" fill="none"/><path d="M791.89,852.3V963.7M784.09,852.3H799.69M784.09,963.7H799.69" stroke="#7e2e8d" stroke-width="2.6" fill="none"/>
<circle cx="284.99" cy="737.5" r="7.3" fill="none" stroke="#7e2e8d" stroke-width="2.8"/><circle cx="292.73" cy="727" r="7.3" fill="none" stroke="#7e2e8d" stroke-width="2.8"/><circle cx="300.47" cy="717.4" r="7.3" fill="none" stroke="#7e2e8d" stroke-width="2.8"/><circle cx="308.21" cy="709.8" r="7.3" fill="none" stroke="#7e2e8d" stroke-width="2.8"/><circle cx="315.94" cy="705" r="7.3" fill="none" stroke="#7e2e8d" stroke-width="2.8"/><circle cx="323.68" cy="701.2" r="7.3" fill="none" stroke="#7e2e8d" stroke-width="2.8"/><circle cx="331.42" cy="699.3" r="7.3" fill="none" stroke="#7e2e8d" stroke-width="2.8"/><circle cx="339.16" cy="698.3" r="7.3" fill="none" stroke="#7e2e8d" stroke-width="2.8"/><circle cx="346.9" cy="698.3" r="7.3" fill="none" stroke="#7e2e8d" stroke-width="2.8"/><circle cx="354.64" cy="699.3" r="7.3" fill="none" stroke="#7e2e8d" stroke-width="2.8"/><circle cx="370.12" cy="720.3" r="7.3" fill="none" stroke="#7e2e8d" stroke-width="2.8"/><circle cx="377.86" cy="713.6" r="7.3" fill="none" stroke="#7e2e8d" stroke-width="2.8"/><circle cx="385.6" cy="708.8" r="7.3" fill="none" stroke="#7e2e8d" stroke-width="2.8"/><circle cx="393.33" cy="706" r="7.3" fill="none" stroke="#7e2e8d" stroke-width="2.8"/><circle cx="401.07" cy="704" r="7.3" fill="none" stroke="#7e2e8d" stroke-width="2.8"/><circle cx="408.81" cy="704" r="7.3" fill="none" stroke="#7e2e8d" stroke-width="2.8"/><circle cx="416.55" cy="704" r="7.3" fill="none" stroke="#7e2e8d" stroke-width="2.8"/><circle cx="424.29" cy="704" r="7.3" fill="none" stroke="#7e2e8d" stroke-width="2.8"/><circle cx="432.03" cy="704" r="7.3" fill="none" stroke="#7e2e8d" stroke-width="2.8"/><circle cx="439.77" cy="706" r="7.3" fill="none" stroke="#7e2e8d" stroke-width="2.8"/><circle cx="455.25" cy="726" r="7.3" fill="none" stroke="#7e2e8d" stroke-width="2.8"/><circle cx="462.99" cy="721.2" r="7.3" fill="none" stroke="#7e2e8d" stroke-width="2.8"/><circle cx="470.72" cy="719.3" r="7.3" fill="none" stroke="#7e2e8d" stroke-width="2.8"/><circle cx="478.46" cy="718.4" r="7.3" fill="none" stroke="#7e2e8d" stroke-width="2.8"/><circle cx="486.2" cy="717.4" r="7.3" fill="none" stroke="#7e2e8d" stroke-width="2.8"/><circle cx="493.94" cy="717.4" r="7.3" fill="none" stroke="#7e2e8d" stroke-width="2.8"/><circle cx="501.68" cy="717.4" r="7.3" fill="none" stroke="#7e2e8d" stroke-width="2.8"/><circle cx="509.42" cy="717.4" r="7.3" fill="none" stroke="#7e2e8d" stroke-width="2.8"/><circle cx="517.16" cy="717.4" r="7.3" fill="none" stroke="#7e2e8d" stroke-width="2.8"/><circle cx="524.9" cy="718.4" r="7.3" fill="none" stroke="#7e2e8d" stroke-width="2.8"/><circle cx="540.38" cy="743.2" r="7.3" fill="none" stroke="#7e2e8d" stroke-width="2.8"/><circle cx="548.11" cy="738.4" r="7.3" fill="none" stroke="#7e2e8d" stroke-width="2.8"/><circle cx="555.85" cy="734.6" r="7.3" fill="none" stroke="#7e2e8d" stroke-width="2.8"/><circle cx="563.59" cy="732.7" r="7.3" fill="none" stroke="#7e2e8d" stroke-width="2.8"/><circle cx="571.33" cy="731.7" r="7.3" fill="none" stroke="#7e2e8d" stroke-width="2.8"/><circle cx="579.07" cy="731.7" r="7.3" fill="none" stroke="#7e2e8d" stroke-width="2.8"/><circle cx="586.81" cy="731.7" r="7.3" fill="none" stroke="#7e2e8d" stroke-width="2.8"/><circle cx="594.55" cy="732.7" r="7.3" fill="none" stroke="#7e2e8d" stroke-width="2.8"/><circle cx="602.29" cy="733.6" r="7.3" fill="none" stroke="#7e2e8d" stroke-width="2.8"/><circle cx="610.03" cy="735.5" r="7.3" fill="none" stroke="#7e2e8d" stroke-width="2.8"/><circle cx="625.5" cy="769.6" r="7.3" fill="none" stroke="#7e2e8d" stroke-width="2.8"/><circle cx="633.24" cy="769.6" r="7.3" fill="none" stroke="#7e2e8d" stroke-width="2.8"/><circle cx="640.98" cy="770.2" r="7.3" fill="none" stroke="#7e2e8d" stroke-width="2.8"/><circle cx="648.72" cy="770.9" r="7.3" fill="none" stroke="#7e2e8d" stroke-width="2.8"/><circle cx="656.46" cy="772.5" r="7.3" fill="none" stroke="#7e2e8d" stroke-width="2.8"/><circle cx="664.2" cy="775.3" r="7.3" fill="none" stroke="#7e2e8d" stroke-width="2.8"/><circle cx="671.94" cy="779.1" r="7.3" fill="none" stroke="#7e2e8d" stroke-width="2.8"/><circle cx="679.68" cy="783" r="7.3" fill="none" stroke="#7e2e8d" stroke-width="2.8"/><circle cx="687.42" cy="787.7" r="7.3" fill="none" stroke="#7e2e8d" stroke-width="2.8"/><circle cx="695.16" cy="792.5" r="7.3" fill="none" stroke="#7e2e8d" stroke-width="2.8"/><circle cx="722.24" cy="863.2" r="7.3" fill="none" stroke="#7e2e8d" stroke-width="2.8"/><circle cx="729.98" cy="865.1" r="7.3" fill="none" stroke="#7e2e8d" stroke-width="2.8"/><circle cx="737.72" cy="867.6" r="7.3" fill="none" stroke="#7e2e8d" stroke-width="2.8"/><circle cx="745.46" cy="871.8" r="7.3" fill="none" stroke="#7e2e8d" stroke-width="2.8"/><circle cx="753.2" cy="876.5" r="7.3" fill="none" stroke="#7e2e8d" stroke-width="2.8"/><circle cx="760.94" cy="881.3" r="7.3" fill="none" stroke="#7e2e8d" stroke-width="2.8"/><circle cx="768.68" cy="886.1" r="7.3" fill="none" stroke="#7e2e8d" stroke-width="2.8"/><circle cx="776.41" cy="891.8" r="7.3" fill="none" stroke="#7e2e8d" stroke-width="2.8"/><circle cx="784.15" cy="898.5" r="7.3" fill="none" stroke="#7e2e8d" stroke-width="2.8"/><circle cx="791.89" cy="908" r="7.3" fill="none" stroke="#7e2e8d" stroke-width="2.8"/>
<rect x="1233.1" y="530.6" width="258.5" height="54.3" fill="#fff"/>
<text transform="matrix(1,0,0,1.04,1241,569.1)" font-size="32" font-weight="bold" fill="#000000">b) Aging CC C/2</text>
<path d="M118.6,517.7H1569.5V966.5H118.6Z" stroke="#000000" stroke-width="2.9" fill="none"/>
<text transform="matrix(1,0,0,1.04,118.6,1008.3)" font-size="32" text-anchor="middle" fill="#000000">0</text><text transform="matrix(1,0,0,1.04,312.07,1008.3)" font-size="32" text-anchor="middle" fill="#000000">50</text><text transform="matrix(1,0,0,1.04,505.55,1008.3)" font-size="32" text-anchor="middle" fill="#000000">100</text><text transform="matrix(1,0,0,1.04,699.02,1008.3)" font-size="32" text-anchor="middle" fill="#000000">150</text><text transform="matrix(1,0,0,1.04,892.5,1008.3)" font-size="32" text-anchor="middle" fill="#000000">200</text><text transform="matrix(1,0,0,1.04,1085.97,1008.3)" font-size="32" text-anchor="middle" fill="#000000">250</text><text transform="matrix(1,0,0,1.04,1279.45,1008.3)" font-size="32" text-anchor="middle" fill="#000000">300</text><text transform="matrix(1,0,0,1.04,1472.92,1008.3)" font-size="32" text-anchor="middle" fill="#000000">350</text><text transform="matrix(1,0,0,1.04,106,921.6)" font-size="32" text-anchor="end" fill="#000000">100</text><text transform="matrix(1,0,0,1.04,106,809.4)" font-size="32" text-anchor="end" fill="#000000">120</text><text transform="matrix(1,0,0,1.04,106,697.2)" font-size="32" text-anchor="end" fill="#000000">140</text><text transform="matrix(1,0,0,1.04,106,585)" font-size="32" text-anchor="end" fill="#000000">160</text>
<text transform="translate(22.9,741.3) rotate(-90)" text-anchor="middle" font-size="32" fill="#000000">Q<tspan font-size="25" dy="16.4">DCH</tspan><tspan dy="-16.4"> in mAh/g</tspan><tspan font-size="25" dy="16.4">NCA</tspan></text>
<path d="M118.6,1036.1V1484.7M312.07,1036.1V1484.7M505.55,1036.1V1484.7M699.02,1036.1V1484.7M892.5,1036.1V1484.7M1085.97,1036.1V1484.7M1279.45,1036.1V1484.7M1472.92,1036.1V1484.7" stroke="#262626" stroke-opacity="0.15" stroke-width="2.7" fill="none"/><path d="M118.6,1484.7H1569.5M118.6,1418.24H1569.5M118.6,1351.78H1569.5M118.6,1285.32H1569.5M118.6,1218.86H1569.5M118.6,1152.4H1569.5M118.6,1085.94H1569.5" stroke="#262626" stroke-opacity="0.15" stroke-width="2.7" fill="none"/>
<path d="M118.6,1484.7V1469.2M118.6,1036.1V1051.6M312.07,1484.7V1469.2M312.07,1036.1V1051.6M505.55,1484.7V1469.2M505.55,1036.1V1051.6M699.02,1484.7V1469.2M699.02,1036.1V1051.6M892.5,1484.7V1469.2M892.5,1036.1V1051.6M1085.97,1484.7V1469.2M1085.97,1036.1V1051.6M1279.45,1484.7V1469.2M1279.45,1036.1V1051.6M1472.92,1484.7V1469.2M1472.92,1036.1V1051.6M118.6,1484.7H134.1M1569.5,1484.7H1554M118.6,1418.24H134.1M1569.5,1418.24H1554M118.6,1351.78H134.1M1569.5,1351.78H1554M118.6,1285.32H134.1M1569.5,1285.32H1554M118.6,1218.86H134.1M1569.5,1218.86H1554M118.6,1152.4H134.1M1569.5,1152.4H1554M118.6,1085.94H134.1M1569.5,1085.94H1554" stroke="#000000" stroke-width="2.5" fill="none"/>
<path d="M230.82,1047V1072M223.02,1047H238.62M223.02,1072H238.62" stroke="#7fd15a" stroke-width="2.6" fill="none"/><rect x="224.22" y="1052.9" width="13.2" height="13.2" fill="none" stroke="#7fd15a" stroke-width="2.8"/><path d="M234.69,1047V1072M226.88,1047H242.49M226.88,1072H242.49" stroke="#7fd15a" stroke-width="2.6" fill="none"/><rect x="228.09" y="1052.9" width="13.2" height="13.2" fill="none" stroke="#7fd15a" stroke-width="2.8"/><path d="M238.55,1047V1072M230.75,1047H246.35M230.75,1072H246.35" stroke="#7fd15a" stroke-width="2.6" fill="none"/><rect x="231.95" y="1052.9" width="13.2" height="13.2" fill="none" stroke="#7fd15a" stroke-width="2.8"/><path d="M242.42,1047V1072M234.62,1047H250.22M234.62,1072H250.22" stroke="#7fd15a" stroke-width="2.6" fill="none"/><rect x="235.82" y="1052.9" width="13.2" height="13.2" fill="none" stroke="#7fd15a" stroke-width="2.8"/><path d="M246.29,1047V1072M238.49,1047H254.09M238.49,1072H254.09" stroke="#7fd15a" stroke-width="2.6" fill="none"/><rect x="239.69" y="1052.9" width="13.2" height="13.2" fill="none" stroke="#7fd15a" stroke-width="2.8"/><path d="M962.3,1119.4V1157.8M954.5,1119.4H970.1M954.5,1157.8H970.1" stroke="#7fd15a" stroke-width="2.6" fill="none"/><rect x="955.7" y="1132" width="13.2" height="13.2" fill="none" stroke="#7fd15a" stroke-width="2.8"/><path d="M966.1,1119.4V1157.8M958.3,1119.4H973.9M958.3,1157.8H973.9" stroke="#7fd15a" stroke-width="2.6" fill="none"/><rect x="959.5" y="1132" width="13.2" height="13.2" fill="none" stroke="#7fd15a" stroke-width="2.8"/><path d="M970,1119.4V1157.8M962.2,1119.4H977.8M962.2,1157.8H977.8" stroke="#7fd15a" stroke-width="2.6" fill="none"/><rect x="963.4" y="1132" width="13.2" height="13.2" fill="none" stroke="#7fd15a" stroke-width="2.8"/><path d="M1314.3,1213.6V1246M1306.5,1213.6H1322.1M1306.5,1246H1322.1" stroke="#7fd15a" stroke-width="2.6" fill="none"/><rect x="1307.7" y="1223.2" width="13.2" height="13.2" fill="none" stroke="#7fd15a" stroke-width="2.8"/><path d="M1318.2,1213.6V1246M1310.4,1213.6H1326M1310.4,1246H1326" stroke="#7fd15a" stroke-width="2.6" fill="none"/><rect x="1311.6" y="1223.2" width="13.2" height="13.2" fill="none" stroke="#7fd15a" stroke-width="2.8"/><path d="M1322.1,1213.6V1246M1314.3,1213.6H1329.9M1314.3,1246H1329.9" stroke="#7fd15a" stroke-width="2.6" fill="none"/><rect x="1315.5" y="1223.2" width="13.2" height="13.2" fill="none" stroke="#7fd15a" stroke-width="2.8"/><path d="M1496,1285V1317.6M1488.2,1285H1503.8M1488.2,1317.6H1503.8" stroke="#7fd15a" stroke-width="2.6" fill="none"/><rect x="1489.4" y="1294.7" width="13.2" height="13.2" fill="none" stroke="#7fd15a" stroke-width="2.8"/><path d="M1499.9,1285V1317.6M1492.1,1285H1507.7M1492.1,1317.6H1507.7" stroke="#7fd15a" stroke-width="2.6" fill="none"/><rect x="1493.3" y="1294.7" width="13.2" height="13.2" fill="none" stroke="#7fd15a" stroke-width="2.8"/><path d="M1503.8,1285V1317.6M1496,1285H1511.6M1496,1317.6H1511.6" stroke="#7fd15a" stroke-width="2.6" fill="none"/><rect x="1497.2" y="1294.7" width="13.2" height="13.2" fill="none" stroke="#7fd15a" stroke-width="2.8"/>
<path d="M230.82,1047.2L238.42,1057L230.82,1066.8L223.22,1057Z" fill="none" stroke="#000000" stroke-width="3.0"/><path d="M234.69,1047.35L242.28,1057.15L234.69,1066.95L227.09,1057.15Z" fill="none" stroke="#000000" stroke-width="3.0"/><path d="M238.55,1047.5L246.15,1057.3L238.55,1067.1L230.95,1057.3Z" fill="none" stroke="#000000" stroke-width="3.0"/><path d="M242.42,1047.65L250.02,1057.45L242.42,1067.25L234.82,1057.45Z" fill="none" stroke="#000000" stroke-width="3.0"/><path d="M246.29,1047.8L253.89,1057.6L246.29,1067.4L238.69,1057.6Z" fill="none" stroke="#000000" stroke-width="3.0"/><path d="M962.3,1121V1129M954.5,1121H970.1M954.5,1129H970.1" stroke="#000000" stroke-width="2.6" fill="none"/><path d="M962.3,1115.2L969.9,1125L962.3,1134.8L954.7,1125Z" fill="none" stroke="#000000" stroke-width="3.0"/><path d="M966.1,1121V1129M958.3,1121H973.9M958.3,1129H973.9" stroke="#000000" stroke-width="2.6" fill="none"/><path d="M966.1,1115.2L973.7,1125L966.1,1134.8L958.5,1125Z" fill="none" stroke="#000000" stroke-width="3.0"/><path d="M970,1121V1129M962.2,1121H977.8M962.2,1129H977.8" stroke="#000000" stroke-width="2.6" fill="none"/><path d="M970,1115.2L977.6,1125L970,1134.8L962.4,1125Z" fill="none" stroke="#000000" stroke-width="3.0"/><path d="M1314.3,1194.8V1234M1306.5,1194.8H1322.1M1306.5,1234H1322.1" stroke="#000000" stroke-width="2.6" fill="none"/><path d="M1314.3,1204.6L1321.9,1214.4L1314.3,1224.2L1306.7,1214.4Z" fill="none" stroke="#000000" stroke-width="3.0"/><path d="M1318.2,1194.8V1234M1310.4,1194.8H1326M1310.4,1234H1326" stroke="#000000" stroke-width="2.6" fill="none"/><path d="M1318.2,1204.6L1325.8,1214.4L1318.2,1224.2L1310.6,1214.4Z" fill="none" stroke="#000000" stroke-width="3.0"/><path d="M1322.1,1194.8V1234M1314.3,1194.8H1329.9M1314.3,1234H1329.9" stroke="#000000" stroke-width="2.6" fill="none"/><path d="M1322.1,1204.6L1329.7,1214.4L1322.1,1224.2L1314.5,1214.4Z" fill="none" stroke="#000000" stroke-width="3.0"/><path d="M1496,1290.8V1364.8M1488.2,1290.8H1503.8M1488.2,1364.8H1503.8" stroke="#000000" stroke-width="2.6" fill="none"/><path d="M1496,1318L1503.6,1327.8L1496,1337.6L1488.4,1327.8Z" fill="none" stroke="#000000" stroke-width="3.0"/><path d="M1499.9,1290.8V1364.8M1492.1,1290.8H1507.7M1492.1,1364.8H1507.7" stroke="#000000" stroke-width="2.6" fill="none"/><path d="M1499.9,1318L1507.5,1327.8L1499.9,1337.6L1492.3,1327.8Z" fill="none" stroke="#000000" stroke-width="3.0"/><path d="M1503.8,1290.8V1364.8M1496,1290.8H1511.6M1496,1364.8H1511.6" stroke="#000000" stroke-width="2.6" fill="none"/><path d="M1503.8,1318L1511.4,1327.8L1503.8,1337.6L1496.2,1327.8Z" fill="none" stroke="#000000" stroke-width="3.0"/>
<path d="M222.02,1152.63L239.62,1152.63L230.82,1166.63Z" fill="none" stroke="#1b72c6" stroke-width="2.9"/><path d="M225.88,1149.43L243.49,1149.43L234.69,1163.43Z" fill="none" stroke="#1b72c6" stroke-width="2.9"/><path d="M229.75,1147.53L247.35,1147.53L238.55,1161.53Z" fill="none" stroke="#1b72c6" stroke-width="2.9"/><path d="M233.62,1145.93L251.22,1145.93L242.42,1159.93Z" fill="none" stroke="#1b72c6" stroke-width="2.9"/><path d="M237.49,1144.53L255.09,1144.53L246.29,1158.53Z" fill="none" stroke="#1b72c6" stroke-width="2.9"/><path d="M962.3,1174.3V1208.7M954.5,1174.3H970.1M954.5,1208.7H970.1" stroke="#1b72c6" stroke-width="2.6" fill="none"/><path d="M953.5,1186.83L971.1,1186.83L962.3,1200.83Z" fill="none" stroke="#1b72c6" stroke-width="2.9"/><path d="M966.1,1174.3V1208.7M958.3,1174.3H973.9M958.3,1208.7H973.9" stroke="#1b72c6" stroke-width="2.6" fill="none"/><path d="M957.3,1186.83L974.9,1186.83L966.1,1200.83Z" fill="none" stroke="#1b72c6" stroke-width="2.9"/><path d="M970,1174.3V1208.7M962.2,1174.3H977.8M962.2,1208.7H977.8" stroke="#1b72c6" stroke-width="2.6" fill="none"/><path d="M961.2,1186.83L978.8,1186.83L970,1200.83Z" fill="none" stroke="#1b72c6" stroke-width="2.9"/><path d="M1314.3,1282.6V1321.8M1306.5,1282.6H1322.1M1306.5,1321.8H1322.1" stroke="#1b72c6" stroke-width="2.6" fill="none"/><path d="M1305.5,1297.53L1323.1,1297.53L1314.3,1311.53Z" fill="none" stroke="#1b72c6" stroke-width="2.9"/><path d="M1318.2,1282.6V1321.8M1310.4,1282.6H1326M1310.4,1321.8H1326" stroke="#1b72c6" stroke-width="2.6" fill="none"/><path d="M1309.4,1297.53L1327,1297.53L1318.2,1311.53Z" fill="none" stroke="#1b72c6" stroke-width="2.9"/><path d="M1322.1,1282.6V1321.8M1314.3,1282.6H1329.9M1314.3,1321.8H1329.9" stroke="#1b72c6" stroke-width="2.6" fill="none"/><path d="M1313.3,1297.53L1330.9,1297.53L1322.1,1311.53Z" fill="none" stroke="#1b72c6" stroke-width="2.9"/><path d="M1496,1376V1408M1488.2,1376H1503.8M1488.2,1408H1503.8" stroke="#1b72c6" stroke-width="2.6" fill="none"/><path d="M1487.2,1387.33L1504.8,1387.33L1496,1401.33Z" fill="none" stroke="#1b72c6" stroke-width="2.9"/><path d="M1499.9,1376V1403M1492.1,1376H1507.7M1492.1,1403H1507.7" stroke="#1b72c6" stroke-width="2.6" fill="none"/><path d="M1491.1,1384.83L1508.7,1384.83L1499.9,1398.83Z" fill="none" stroke="#1b72c6" stroke-width="2.9"/><path d="M1503.8,1375.5V1398.5M1496,1375.5H1511.6M1496,1398.5H1511.6" stroke="#1b72c6" stroke-width="2.6" fill="none"/><path d="M1495,1382.33L1512.6,1382.33L1503.8,1396.33Z" fill="none" stroke="#1b72c6" stroke-width="2.9"/>
<path d="M230.2,1163.6V1231.4M222.4,1163.6H238M222.4,1231.4H238" stroke="#7e2e8d" stroke-width="2.6" fill="none"/><circle cx="230.2" cy="1198.3" r="7.3" fill="none" stroke="#7e2e8d" stroke-width="2.8"/><path d="M234.2,1166.4V1234.8M226.4,1166.4H242M226.4,1234.8H242" stroke="#7e2e8d" stroke-width="2.6" fill="none"/><circle cx="234.2" cy="1198.9" r="7.3" fill="none" stroke="#7e2e8d" stroke-width="2.8"/><path d="M238.2,1168.5V1236.5M230.4,1168.5H246M230.4,1236.5H246" stroke="#7e2e8d" stroke-width="2.6" fill="none"/><circle cx="238.2" cy="1199.5" r="7.3" fill="none" stroke="#7e2e8d" stroke-width="2.8"/><path d="M242.2,1170.1V1238M234.4,1170.1H250M234.4,1238H250" stroke="#7e2e8d" stroke-width="2.6" fill="none"/><circle cx="242.2" cy="1200" r="7.3" fill="none" stroke="#7e2e8d" stroke-width="2.8"/><path d="M246.2,1160.7V1240M238.4,1160.7H254M238.4,1240H254" stroke="#7e2e8d" stroke-width="2.6" fill="none"/><circle cx="246.2" cy="1200.6" r="7.3" fill="none" stroke="#7e2e8d" stroke-width="2.8"/><path d="M706.8,1291.6V1379.6M699,1291.6H714.6M699,1379.6H714.6" stroke="#7e2e8d" stroke-width="2.6" fill="none"/><circle cx="706.8" cy="1335.6" r="7.3" fill="none" stroke="#7e2e8d" stroke-width="2.8"/><path d="M710.6,1301.2V1387.1M702.8,1301.2H718.4M702.8,1387.1H718.4" stroke="#7e2e8d" stroke-width="2.6" fill="none"/><circle cx="710.6" cy="1342.6" r="7.3" fill="none" stroke="#7e2e8d" stroke-width="2.8"/><path d="M714.5,1307.6V1390.3M706.7,1307.6H722.3M706.7,1390.3H722.3" stroke="#7e2e8d" stroke-width="2.6" fill="none"/><circle cx="714.5" cy="1349" r="7.3" fill="none" stroke="#7e2e8d" stroke-width="2.8"/><path d="M803.5,1371.2V1458.2M795.7,1371.2H811.3M795.7,1458.2H811.3" stroke="#7e2e8d" stroke-width="2.6" fill="none"/><circle cx="803.5" cy="1414.2" r="7.3" fill="none" stroke="#7e2e8d" stroke-width="2.8"/><path d="M807.4,1380.8V1464.1M799.6,1380.8H815.2M799.6,1464.1H815.2" stroke="#7e2e8d" stroke-width="2.6" fill="none"/><circle cx="807.4" cy="1422.1" r="7.3" fill="none" stroke="#7e2e8d" stroke-width="2.8"/><path d="M811.3,1387.1V1472.1M803.5,1387.1H819.1M803.5,1472.1H819.1" stroke="#7e2e8d" stroke-width="2.6" fill="none"/><circle cx="811.3" cy="1430.1" r="7.3" fill="none" stroke="#7e2e8d" stroke-width="2.8"/>
<rect x="1233.1" y="1064.8" width="292.3" height="54.3" fill="#fff"/>
<text transform="matrix(1,0,0,1.04,1241,1103.3)" font-size="32" font-weight="bold" fill="#000000">c) Rate test CC 2C</text>
<rect x="252.6" y="1077.7" width="169.9" height="55.4" fill="#fff"/>
<text transform="matrix(1,0,0,1.04,262,1116.9)" font-size="32" fill="#000000">100% SoH</text>
<rect x="268.8" y="1177" width="151.8" height="53.5" fill="#fff"/>
<text transform="matrix(1,0,0,1.04,277,1214.3)" font-size="32" fill="#000000">90% SoH</text>
<rect x="985.5" y="1131" width="152.8" height="54" fill="#fff"/>
<text transform="matrix(1,0,0,1.04,993.8,1169.1)" font-size="32" fill="#000000">90% SoH</text>
<rect x="735.7" y="1312" width="151.2" height="54.5" fill="#fff"/>
<text transform="matrix(1,0,0,1.04,744,1350.5)" font-size="32" fill="#000000">80% SoH</text>
<rect x="828" y="1398.3" width="152.8" height="52.5" fill="#fff"/>
<text transform="matrix(1,0,0,1.04,836.4,1434.9)" font-size="32" fill="#000000">70% SoH</text>
<rect x="1336" y="1229.8" width="157" height="54.6" fill="#fff"/>
<text transform="matrix(1,0,0,1.04,1347.4,1268.1)" font-size="32" fill="#000000">80% SoH</text>
<rect x="1415.6" y="1411.8" width="150.4" height="54.7" fill="#fff"/>
<text transform="matrix(1,0,0,1.04,1424.4,1450.2)" font-size="32" fill="#000000">70% SoH</text>
<path d="M118.6,1036.1H1569.5V1484.7H118.6Z" stroke="#000000" stroke-width="2.9" fill="none"/>
<text transform="matrix(1,0,0,1.04,118.6,1526.5)" font-size="32" text-anchor="middle" fill="#000000">0</text><text transform="matrix(1,0,0,1.04,312.07,1526.5)" font-size="32" text-anchor="middle" fill="#000000">50</text><text transform="matrix(1,0,0,1.04,505.55,1526.5)" font-size="32" text-anchor="middle" fill="#000000">100</text><text transform="matrix(1,0,0,1.04,699.02,1526.5)" font-size="32" text-anchor="middle" fill="#000000">150</text><text transform="matrix(1,0,0,1.04,892.5,1526.5)" font-size="32" text-anchor="middle" fill="#000000">200</text><text transform="matrix(1,0,0,1.04,1085.97,1526.5)" font-size="32" text-anchor="middle" fill="#000000">250</text><text transform="matrix(1,0,0,1.04,1279.45,1526.5)" font-size="32" text-anchor="middle" fill="#000000">300</text><text transform="matrix(1,0,0,1.04,1472.92,1526.5)" font-size="32" text-anchor="middle" fill="#000000">350</text><text transform="matrix(1,0,0,1.04,106,1495.9)" font-size="32" text-anchor="end" fill="#000000">20</text><text transform="matrix(1,0,0,1.04,106,1429.44)" font-size="32" text-anchor="end" fill="#000000">40</text><text transform="matrix(1,0,0,1.04,106,1362.98)" font-size="32" text-anchor="end" fill="#000000">60</text><text transform="matrix(1,0,0,1.04,106,1296.52)" font-size="32" text-anchor="end" fill="#000000">80</text><text transform="matrix(1,0,0,1.04,106,1230.06)" font-size="32" text-anchor="end" fill="#000000">100</text><text transform="matrix(1,0,0,1.04,106,1163.6)" font-size="32" text-anchor="end" fill="#000000">120</text><text transform="matrix(1,0,0,1.04,106,1097.14)" font-size="32" text-anchor="end" fill="#000000">140</text>
<text transform="translate(22.9,1259.6) rotate(-90)" text-anchor="middle" font-size="32" fill="#000000">Q<tspan font-size="25" dy="16.4">DCH</tspan><tspan dy="-16.4"> in mAh/g</tspan><tspan font-size="25" dy="16.4">NCA</tspan></text>
<text transform="matrix(1,0,0,1.04,843.5,1570.4)" font-size="35.2" text-anchor="middle" fill="#000000">Cycles</text>
</svg>
</body></html>
